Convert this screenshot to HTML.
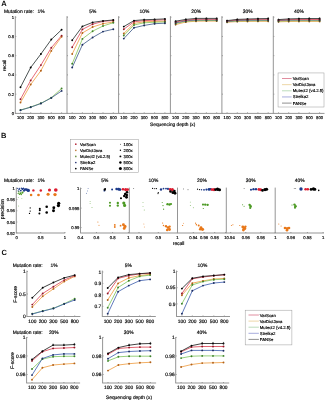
<!DOCTYPE html>
<html><head><meta charset="utf-8"><style>
html,body{margin:0;padding:0;background:#fff;}
svg{display:block;font-family:"Liberation Sans", sans-serif;text-rendering:geometricPrecision;will-change:transform;}
</style></head><body>
<svg width="326" height="400" viewBox="0 0 326 400">
<g>
<rect width="326" height="400" fill="#fff"/>
<text x="1.20" y="6.00" font-size="7.5" text-anchor="start" font-weight="bold" fill="#111" >A</text>
<line x1="15.30" y1="16.20" x2="15.30" y2="113.40" stroke="#959595" stroke-width="1.0"/>
<line x1="14.90" y1="113.40" x2="67.00" y2="113.40" stroke="#959595" stroke-width="1.0"/>
<line x1="20.50" y1="113.40" x2="20.50" y2="112.40" stroke="#959595" stroke-width="1.0"/>
<text x="20.50" y="119.20" font-size="4.2" text-anchor="middle" font-weight="normal" fill="#000" stroke="#000" stroke-width="0.16" >100</text>
<line x1="30.70" y1="113.40" x2="30.70" y2="112.40" stroke="#959595" stroke-width="1.0"/>
<text x="30.70" y="119.20" font-size="4.2" text-anchor="middle" font-weight="normal" fill="#000" stroke="#000" stroke-width="0.16" >200</text>
<line x1="40.90" y1="113.40" x2="40.90" y2="112.40" stroke="#959595" stroke-width="1.0"/>
<text x="40.90" y="119.20" font-size="4.2" text-anchor="middle" font-weight="normal" fill="#000" stroke="#000" stroke-width="0.16" >300</text>
<line x1="51.30" y1="113.40" x2="51.30" y2="112.40" stroke="#959595" stroke-width="1.0"/>
<text x="51.30" y="119.20" font-size="4.2" text-anchor="middle" font-weight="normal" fill="#000" stroke="#000" stroke-width="0.16" >500</text>
<line x1="61.60" y1="113.40" x2="61.60" y2="112.40" stroke="#959595" stroke-width="1.0"/>
<text x="61.60" y="119.20" font-size="4.2" text-anchor="middle" font-weight="normal" fill="#000" stroke="#000" stroke-width="0.16" >800</text>
<line x1="15.30" y1="113.40" x2="16.30" y2="113.40" stroke="#959595" stroke-width="1.0"/>
<line x1="15.30" y1="94.16" x2="16.30" y2="94.16" stroke="#959595" stroke-width="1.0"/>
<line x1="15.30" y1="74.92" x2="16.30" y2="74.92" stroke="#959595" stroke-width="1.0"/>
<line x1="15.30" y1="55.68" x2="16.30" y2="55.68" stroke="#959595" stroke-width="1.0"/>
<line x1="15.30" y1="36.44" x2="16.30" y2="36.44" stroke="#959595" stroke-width="1.0"/>
<line x1="15.30" y1="17.20" x2="16.30" y2="17.20" stroke="#959595" stroke-width="1.0"/>
<polyline points="20.50,102.50 30.70,84.50 40.90,70.70 51.30,50.90 61.60,36.70" fill="none" stroke="#f0a048" stroke-width="0.85"/>
<polyline points="20.50,110.00 30.70,107.00 40.90,103.30 51.30,97.70 61.60,88.50" fill="none" stroke="#8cc860" stroke-width="0.85"/>
<polyline points="20.50,110.20 30.70,107.20 40.90,103.50 51.30,97.90 61.60,90.90" fill="none" stroke="#44608c" stroke-width="0.85"/>
<polyline points="20.50,99.20 30.70,80.40 40.90,65.10 51.30,47.80 61.60,35.60" fill="none" stroke="#e25060" stroke-width="0.85"/>
<polyline points="20.50,87.20 30.70,67.50 40.90,54.00 51.30,39.50 61.60,29.70" fill="none" stroke="#2c3434" stroke-width="0.85"/>
<circle cx="20.50" cy="102.50" r="0.95" fill="#b06018"/>
<circle cx="30.70" cy="84.50" r="0.95" fill="#b06018"/>
<circle cx="40.90" cy="70.70" r="0.95" fill="#b06018"/>
<circle cx="51.30" cy="50.90" r="0.95" fill="#b06018"/>
<circle cx="61.60" cy="36.70" r="0.95" fill="#b06018"/>
<circle cx="20.50" cy="110.00" r="0.95" fill="#3c8028"/>
<circle cx="30.70" cy="107.00" r="0.95" fill="#3c8028"/>
<circle cx="40.90" cy="103.30" r="0.95" fill="#3c8028"/>
<circle cx="51.30" cy="97.70" r="0.95" fill="#3c8028"/>
<circle cx="61.60" cy="88.50" r="0.95" fill="#3c8028"/>
<circle cx="20.50" cy="110.20" r="0.95" fill="#1c2c60"/>
<circle cx="30.70" cy="107.20" r="0.95" fill="#1c2c60"/>
<circle cx="40.90" cy="103.50" r="0.95" fill="#1c2c60"/>
<circle cx="51.30" cy="97.90" r="0.95" fill="#1c2c60"/>
<circle cx="61.60" cy="90.90" r="0.95" fill="#1c2c60"/>
<circle cx="20.50" cy="99.20" r="0.95" fill="#901828"/>
<circle cx="30.70" cy="80.40" r="0.95" fill="#901828"/>
<circle cx="40.90" cy="65.10" r="0.95" fill="#901828"/>
<circle cx="51.30" cy="47.80" r="0.95" fill="#901828"/>
<circle cx="61.60" cy="35.60" r="0.95" fill="#901828"/>
<circle cx="20.50" cy="87.20" r="0.95" fill="#000"/>
<circle cx="30.70" cy="67.50" r="0.95" fill="#000"/>
<circle cx="40.90" cy="54.00" r="0.95" fill="#000"/>
<circle cx="51.30" cy="39.50" r="0.95" fill="#000"/>
<circle cx="61.60" cy="29.70" r="0.95" fill="#000"/>
<line x1="67.00" y1="16.20" x2="67.00" y2="113.40" stroke="#959595" stroke-width="1.0"/>
<line x1="66.60" y1="113.40" x2="118.60" y2="113.40" stroke="#959595" stroke-width="1.0"/>
<line x1="72.20" y1="113.40" x2="72.20" y2="112.40" stroke="#959595" stroke-width="1.0"/>
<text x="72.20" y="119.20" font-size="4.2" text-anchor="middle" font-weight="normal" fill="#000" stroke="#000" stroke-width="0.16" >100</text>
<line x1="82.40" y1="113.40" x2="82.40" y2="112.40" stroke="#959595" stroke-width="1.0"/>
<text x="82.40" y="119.20" font-size="4.2" text-anchor="middle" font-weight="normal" fill="#000" stroke="#000" stroke-width="0.16" >200</text>
<line x1="92.60" y1="113.40" x2="92.60" y2="112.40" stroke="#959595" stroke-width="1.0"/>
<text x="92.60" y="119.20" font-size="4.2" text-anchor="middle" font-weight="normal" fill="#000" stroke="#000" stroke-width="0.16" >300</text>
<line x1="103.00" y1="113.40" x2="103.00" y2="112.40" stroke="#959595" stroke-width="1.0"/>
<text x="103.00" y="119.20" font-size="4.2" text-anchor="middle" font-weight="normal" fill="#000" stroke="#000" stroke-width="0.16" >500</text>
<line x1="113.30" y1="113.40" x2="113.30" y2="112.40" stroke="#959595" stroke-width="1.0"/>
<text x="113.30" y="119.20" font-size="4.2" text-anchor="middle" font-weight="normal" fill="#000" stroke="#000" stroke-width="0.16" >800</text>
<line x1="67.00" y1="113.40" x2="68.00" y2="113.40" stroke="#959595" stroke-width="1.0"/>
<line x1="67.00" y1="94.16" x2="68.00" y2="94.16" stroke="#959595" stroke-width="1.0"/>
<line x1="67.00" y1="74.92" x2="68.00" y2="74.92" stroke="#959595" stroke-width="1.0"/>
<line x1="67.00" y1="55.68" x2="68.00" y2="55.68" stroke="#959595" stroke-width="1.0"/>
<line x1="67.00" y1="36.44" x2="68.00" y2="36.44" stroke="#959595" stroke-width="1.0"/>
<line x1="67.00" y1="17.20" x2="68.00" y2="17.20" stroke="#959595" stroke-width="1.0"/>
<text x="92.80" y="12.60" font-size="4.9" text-anchor="middle" font-weight="normal" fill="#000" stroke="#000" stroke-width="0.16" >5%</text>
<polyline points="72.20,54.00 82.40,33.00 92.60,27.00 103.00,23.70 113.30,22.00" fill="none" stroke="#f0a048" stroke-width="0.85"/>
<polyline points="72.20,63.80 82.40,38.90 92.60,31.20 103.00,26.00 113.30,22.70" fill="none" stroke="#8cc860" stroke-width="0.85"/>
<polyline points="72.20,67.50 82.40,44.80 92.60,37.50 103.00,31.60 113.30,29.20" fill="none" stroke="#44608c" stroke-width="0.85"/>
<polyline points="72.20,47.20 82.40,29.40 92.60,24.20 103.00,21.40 113.30,20.50" fill="none" stroke="#e25060" stroke-width="0.85"/>
<polyline points="72.20,40.20 82.40,26.40 92.60,22.40 103.00,20.90 113.30,20.00" fill="none" stroke="#2c3434" stroke-width="0.85"/>
<circle cx="72.20" cy="54.00" r="0.95" fill="#b06018"/>
<circle cx="82.40" cy="33.00" r="0.95" fill="#b06018"/>
<circle cx="92.60" cy="27.00" r="0.95" fill="#b06018"/>
<circle cx="103.00" cy="23.70" r="0.95" fill="#b06018"/>
<circle cx="113.30" cy="22.00" r="0.95" fill="#b06018"/>
<circle cx="72.20" cy="63.80" r="0.95" fill="#3c8028"/>
<circle cx="82.40" cy="38.90" r="0.95" fill="#3c8028"/>
<circle cx="92.60" cy="31.20" r="0.95" fill="#3c8028"/>
<circle cx="103.00" cy="26.00" r="0.95" fill="#3c8028"/>
<circle cx="113.30" cy="22.70" r="0.95" fill="#3c8028"/>
<circle cx="72.20" cy="67.50" r="0.95" fill="#1c2c60"/>
<circle cx="82.40" cy="44.80" r="0.95" fill="#1c2c60"/>
<circle cx="92.60" cy="37.50" r="0.95" fill="#1c2c60"/>
<circle cx="103.00" cy="31.60" r="0.95" fill="#1c2c60"/>
<circle cx="113.30" cy="29.20" r="0.95" fill="#1c2c60"/>
<circle cx="72.20" cy="47.20" r="0.95" fill="#901828"/>
<circle cx="82.40" cy="29.40" r="0.95" fill="#901828"/>
<circle cx="92.60" cy="24.20" r="0.95" fill="#901828"/>
<circle cx="103.00" cy="21.40" r="0.95" fill="#901828"/>
<circle cx="113.30" cy="20.50" r="0.95" fill="#901828"/>
<circle cx="72.20" cy="40.20" r="0.95" fill="#000"/>
<circle cx="82.40" cy="26.40" r="0.95" fill="#000"/>
<circle cx="92.60" cy="22.40" r="0.95" fill="#000"/>
<circle cx="103.00" cy="20.90" r="0.95" fill="#000"/>
<circle cx="113.30" cy="20.00" r="0.95" fill="#000"/>
<line x1="118.60" y1="16.20" x2="118.60" y2="113.40" stroke="#959595" stroke-width="1.0"/>
<line x1="118.20" y1="113.40" x2="170.40" y2="113.40" stroke="#959595" stroke-width="1.0"/>
<line x1="123.80" y1="113.40" x2="123.80" y2="112.40" stroke="#959595" stroke-width="1.0"/>
<text x="123.80" y="119.20" font-size="4.2" text-anchor="middle" font-weight="normal" fill="#000" stroke="#000" stroke-width="0.16" >100</text>
<line x1="134.00" y1="113.40" x2="134.00" y2="112.40" stroke="#959595" stroke-width="1.0"/>
<text x="134.00" y="119.20" font-size="4.2" text-anchor="middle" font-weight="normal" fill="#000" stroke="#000" stroke-width="0.16" >200</text>
<line x1="144.20" y1="113.40" x2="144.20" y2="112.40" stroke="#959595" stroke-width="1.0"/>
<text x="144.20" y="119.20" font-size="4.2" text-anchor="middle" font-weight="normal" fill="#000" stroke="#000" stroke-width="0.16" >300</text>
<line x1="154.60" y1="113.40" x2="154.60" y2="112.40" stroke="#959595" stroke-width="1.0"/>
<text x="154.60" y="119.20" font-size="4.2" text-anchor="middle" font-weight="normal" fill="#000" stroke="#000" stroke-width="0.16" >500</text>
<line x1="164.90" y1="113.40" x2="164.90" y2="112.40" stroke="#959595" stroke-width="1.0"/>
<text x="164.90" y="119.20" font-size="4.2" text-anchor="middle" font-weight="normal" fill="#000" stroke="#000" stroke-width="0.16" >800</text>
<line x1="118.60" y1="113.40" x2="119.60" y2="113.40" stroke="#959595" stroke-width="1.0"/>
<line x1="118.60" y1="94.16" x2="119.60" y2="94.16" stroke="#959595" stroke-width="1.0"/>
<line x1="118.60" y1="74.92" x2="119.60" y2="74.92" stroke="#959595" stroke-width="1.0"/>
<line x1="118.60" y1="55.68" x2="119.60" y2="55.68" stroke="#959595" stroke-width="1.0"/>
<line x1="118.60" y1="36.44" x2="119.60" y2="36.44" stroke="#959595" stroke-width="1.0"/>
<line x1="118.60" y1="17.20" x2="119.60" y2="17.20" stroke="#959595" stroke-width="1.0"/>
<text x="144.50" y="12.60" font-size="4.9" text-anchor="middle" font-weight="normal" fill="#000" stroke="#000" stroke-width="0.16" >10%</text>
<polyline points="123.80,33.50 134.00,23.40 144.20,21.80 154.60,21.40 164.90,21.20" fill="none" stroke="#f0a048" stroke-width="0.85"/>
<polyline points="123.80,35.50 134.00,25.00 144.20,22.80 154.60,22.20 164.90,21.90" fill="none" stroke="#8cc860" stroke-width="0.85"/>
<polyline points="123.80,38.60 134.00,27.80 144.20,25.40 154.60,23.70 164.90,23.20" fill="none" stroke="#44608c" stroke-width="0.85"/>
<polyline points="123.80,29.20 134.00,21.80 144.20,20.60 154.60,20.20 164.90,19.80" fill="none" stroke="#e25060" stroke-width="0.85"/>
<polyline points="123.80,26.60 134.00,20.60 144.20,19.70 154.60,19.40 164.90,18.90" fill="none" stroke="#2c3434" stroke-width="0.85"/>
<circle cx="123.80" cy="33.50" r="0.95" fill="#b06018"/>
<circle cx="134.00" cy="23.40" r="0.95" fill="#b06018"/>
<circle cx="144.20" cy="21.80" r="0.95" fill="#b06018"/>
<circle cx="154.60" cy="21.40" r="0.95" fill="#b06018"/>
<circle cx="164.90" cy="21.20" r="0.95" fill="#b06018"/>
<circle cx="123.80" cy="35.50" r="0.95" fill="#3c8028"/>
<circle cx="134.00" cy="25.00" r="0.95" fill="#3c8028"/>
<circle cx="144.20" cy="22.80" r="0.95" fill="#3c8028"/>
<circle cx="154.60" cy="22.20" r="0.95" fill="#3c8028"/>
<circle cx="164.90" cy="21.90" r="0.95" fill="#3c8028"/>
<circle cx="123.80" cy="38.60" r="0.95" fill="#1c2c60"/>
<circle cx="134.00" cy="27.80" r="0.95" fill="#1c2c60"/>
<circle cx="144.20" cy="25.40" r="0.95" fill="#1c2c60"/>
<circle cx="154.60" cy="23.70" r="0.95" fill="#1c2c60"/>
<circle cx="164.90" cy="23.20" r="0.95" fill="#1c2c60"/>
<circle cx="123.80" cy="29.20" r="0.95" fill="#901828"/>
<circle cx="134.00" cy="21.80" r="0.95" fill="#901828"/>
<circle cx="144.20" cy="20.60" r="0.95" fill="#901828"/>
<circle cx="154.60" cy="20.20" r="0.95" fill="#901828"/>
<circle cx="164.90" cy="19.80" r="0.95" fill="#901828"/>
<circle cx="123.80" cy="26.60" r="0.95" fill="#000"/>
<circle cx="134.00" cy="20.60" r="0.95" fill="#000"/>
<circle cx="144.20" cy="19.70" r="0.95" fill="#000"/>
<circle cx="154.60" cy="19.40" r="0.95" fill="#000"/>
<circle cx="164.90" cy="18.90" r="0.95" fill="#000"/>
<line x1="144.20" y1="18.80" x2="144.20" y2="26.30" stroke="#333" stroke-width="0.5"/>
<line x1="154.60" y1="18.50" x2="154.60" y2="24.60" stroke="#333" stroke-width="0.5"/>
<line x1="164.90" y1="18.00" x2="164.90" y2="24.10" stroke="#333" stroke-width="0.5"/>
<line x1="170.40" y1="16.20" x2="170.40" y2="113.40" stroke="#959595" stroke-width="1.0"/>
<line x1="170.00" y1="113.40" x2="221.90" y2="113.40" stroke="#959595" stroke-width="1.0"/>
<line x1="175.60" y1="113.40" x2="175.60" y2="112.40" stroke="#959595" stroke-width="1.0"/>
<text x="175.60" y="119.20" font-size="4.2" text-anchor="middle" font-weight="normal" fill="#000" stroke="#000" stroke-width="0.16" >100</text>
<line x1="185.80" y1="113.40" x2="185.80" y2="112.40" stroke="#959595" stroke-width="1.0"/>
<text x="185.80" y="119.20" font-size="4.2" text-anchor="middle" font-weight="normal" fill="#000" stroke="#000" stroke-width="0.16" >200</text>
<line x1="196.00" y1="113.40" x2="196.00" y2="112.40" stroke="#959595" stroke-width="1.0"/>
<text x="196.00" y="119.20" font-size="4.2" text-anchor="middle" font-weight="normal" fill="#000" stroke="#000" stroke-width="0.16" >300</text>
<line x1="206.40" y1="113.40" x2="206.40" y2="112.40" stroke="#959595" stroke-width="1.0"/>
<text x="206.40" y="119.20" font-size="4.2" text-anchor="middle" font-weight="normal" fill="#000" stroke="#000" stroke-width="0.16" >500</text>
<line x1="216.70" y1="113.40" x2="216.70" y2="112.40" stroke="#959595" stroke-width="1.0"/>
<text x="216.70" y="119.20" font-size="4.2" text-anchor="middle" font-weight="normal" fill="#000" stroke="#000" stroke-width="0.16" >800</text>
<line x1="170.40" y1="113.40" x2="171.40" y2="113.40" stroke="#959595" stroke-width="1.0"/>
<line x1="170.40" y1="94.16" x2="171.40" y2="94.16" stroke="#959595" stroke-width="1.0"/>
<line x1="170.40" y1="74.92" x2="171.40" y2="74.92" stroke="#959595" stroke-width="1.0"/>
<line x1="170.40" y1="55.68" x2="171.40" y2="55.68" stroke="#959595" stroke-width="1.0"/>
<line x1="170.40" y1="36.44" x2="171.40" y2="36.44" stroke="#959595" stroke-width="1.0"/>
<line x1="170.40" y1="17.20" x2="171.40" y2="17.20" stroke="#959595" stroke-width="1.0"/>
<text x="196.15" y="12.60" font-size="4.9" text-anchor="middle" font-weight="normal" fill="#000" stroke="#000" stroke-width="0.16" >20%</text>
<polyline points="175.60,24.60 185.80,22.00 196.00,21.20 206.40,21.10 216.70,21.10" fill="none" stroke="#f0a048" stroke-width="0.85"/>
<polyline points="175.60,23.60 185.80,21.40 196.00,20.60 206.40,20.50 216.70,20.50" fill="none" stroke="#8cc860" stroke-width="0.85"/>
<polyline points="175.60,22.80 185.80,20.80 196.00,20.00 206.40,19.90 216.70,19.90" fill="none" stroke="#44608c" stroke-width="0.85"/>
<polyline points="175.60,22.00 185.80,20.20 196.00,19.30 206.40,19.30 216.70,19.30" fill="none" stroke="#e25060" stroke-width="0.85"/>
<polyline points="175.60,21.20 185.80,19.40 196.00,18.40 206.40,18.40 216.70,18.40" fill="none" stroke="#2c3434" stroke-width="0.85"/>
<circle cx="175.60" cy="24.60" r="0.95" fill="#b06018"/>
<circle cx="185.80" cy="22.00" r="0.95" fill="#b06018"/>
<circle cx="196.00" cy="21.20" r="0.95" fill="#b06018"/>
<circle cx="206.40" cy="21.10" r="0.95" fill="#b06018"/>
<circle cx="216.70" cy="21.10" r="0.95" fill="#b06018"/>
<circle cx="175.60" cy="23.60" r="0.95" fill="#3c8028"/>
<circle cx="185.80" cy="21.40" r="0.95" fill="#3c8028"/>
<circle cx="196.00" cy="20.60" r="0.95" fill="#3c8028"/>
<circle cx="206.40" cy="20.50" r="0.95" fill="#3c8028"/>
<circle cx="216.70" cy="20.50" r="0.95" fill="#3c8028"/>
<circle cx="175.60" cy="22.80" r="0.95" fill="#1c2c60"/>
<circle cx="185.80" cy="20.80" r="0.95" fill="#1c2c60"/>
<circle cx="196.00" cy="20.00" r="0.95" fill="#1c2c60"/>
<circle cx="206.40" cy="19.90" r="0.95" fill="#1c2c60"/>
<circle cx="216.70" cy="19.90" r="0.95" fill="#1c2c60"/>
<circle cx="175.60" cy="22.00" r="0.95" fill="#901828"/>
<circle cx="185.80" cy="20.20" r="0.95" fill="#901828"/>
<circle cx="196.00" cy="19.30" r="0.95" fill="#901828"/>
<circle cx="206.40" cy="19.30" r="0.95" fill="#901828"/>
<circle cx="216.70" cy="19.30" r="0.95" fill="#901828"/>
<circle cx="175.60" cy="21.20" r="0.95" fill="#000"/>
<circle cx="185.80" cy="19.40" r="0.95" fill="#000"/>
<circle cx="196.00" cy="18.40" r="0.95" fill="#000"/>
<circle cx="206.40" cy="18.40" r="0.95" fill="#000"/>
<circle cx="216.70" cy="18.40" r="0.95" fill="#000"/>
<line x1="175.60" y1="20.30" x2="175.60" y2="25.50" stroke="#333" stroke-width="0.5"/>
<line x1="185.80" y1="18.50" x2="185.80" y2="22.90" stroke="#333" stroke-width="0.5"/>
<line x1="196.00" y1="17.50" x2="196.00" y2="22.10" stroke="#333" stroke-width="0.5"/>
<line x1="206.40" y1="17.50" x2="206.40" y2="22.00" stroke="#333" stroke-width="0.5"/>
<line x1="216.70" y1="17.50" x2="216.70" y2="22.00" stroke="#333" stroke-width="0.5"/>
<line x1="221.90" y1="16.20" x2="221.90" y2="113.40" stroke="#959595" stroke-width="1.0"/>
<line x1="221.50" y1="113.40" x2="273.30" y2="113.40" stroke="#959595" stroke-width="1.0"/>
<line x1="227.10" y1="113.40" x2="227.10" y2="112.40" stroke="#959595" stroke-width="1.0"/>
<text x="227.10" y="119.20" font-size="4.2" text-anchor="middle" font-weight="normal" fill="#000" stroke="#000" stroke-width="0.16" >100</text>
<line x1="237.30" y1="113.40" x2="237.30" y2="112.40" stroke="#959595" stroke-width="1.0"/>
<text x="237.30" y="119.20" font-size="4.2" text-anchor="middle" font-weight="normal" fill="#000" stroke="#000" stroke-width="0.16" >200</text>
<line x1="247.50" y1="113.40" x2="247.50" y2="112.40" stroke="#959595" stroke-width="1.0"/>
<text x="247.50" y="119.20" font-size="4.2" text-anchor="middle" font-weight="normal" fill="#000" stroke="#000" stroke-width="0.16" >300</text>
<line x1="257.90" y1="113.40" x2="257.90" y2="112.40" stroke="#959595" stroke-width="1.0"/>
<text x="257.90" y="119.20" font-size="4.2" text-anchor="middle" font-weight="normal" fill="#000" stroke="#000" stroke-width="0.16" >500</text>
<line x1="268.20" y1="113.40" x2="268.20" y2="112.40" stroke="#959595" stroke-width="1.0"/>
<text x="268.20" y="119.20" font-size="4.2" text-anchor="middle" font-weight="normal" fill="#000" stroke="#000" stroke-width="0.16" >800</text>
<line x1="221.90" y1="113.40" x2="222.90" y2="113.40" stroke="#959595" stroke-width="1.0"/>
<line x1="221.90" y1="94.16" x2="222.90" y2="94.16" stroke="#959595" stroke-width="1.0"/>
<line x1="221.90" y1="74.92" x2="222.90" y2="74.92" stroke="#959595" stroke-width="1.0"/>
<line x1="221.90" y1="55.68" x2="222.90" y2="55.68" stroke="#959595" stroke-width="1.0"/>
<line x1="221.90" y1="36.44" x2="222.90" y2="36.44" stroke="#959595" stroke-width="1.0"/>
<line x1="221.90" y1="17.20" x2="222.90" y2="17.20" stroke="#959595" stroke-width="1.0"/>
<text x="247.60" y="12.60" font-size="4.9" text-anchor="middle" font-weight="normal" fill="#000" stroke="#000" stroke-width="0.16" >30%</text>
<polyline points="227.10,22.20 237.30,21.60 247.50,21.40 257.90,21.30 268.20,21.30" fill="none" stroke="#f0a048" stroke-width="0.85"/>
<polyline points="227.10,21.80 237.30,21.00 247.50,20.80 257.90,20.70 268.20,20.60" fill="none" stroke="#8cc860" stroke-width="0.85"/>
<polyline points="227.10,21.40 237.30,20.50 247.50,20.20 257.90,20.10 268.20,20.00" fill="none" stroke="#44608c" stroke-width="0.85"/>
<polyline points="227.10,21.00 237.30,19.90 247.50,19.60 257.90,19.40 268.20,19.30" fill="none" stroke="#e25060" stroke-width="0.85"/>
<polyline points="227.10,20.60 237.30,19.40 247.50,19.00 257.90,18.70 268.20,18.50" fill="none" stroke="#2c3434" stroke-width="0.85"/>
<circle cx="227.10" cy="22.20" r="0.95" fill="#b06018"/>
<circle cx="237.30" cy="21.60" r="0.95" fill="#b06018"/>
<circle cx="247.50" cy="21.40" r="0.95" fill="#b06018"/>
<circle cx="257.90" cy="21.30" r="0.95" fill="#b06018"/>
<circle cx="268.20" cy="21.30" r="0.95" fill="#b06018"/>
<circle cx="227.10" cy="21.80" r="0.95" fill="#3c8028"/>
<circle cx="237.30" cy="21.00" r="0.95" fill="#3c8028"/>
<circle cx="247.50" cy="20.80" r="0.95" fill="#3c8028"/>
<circle cx="257.90" cy="20.70" r="0.95" fill="#3c8028"/>
<circle cx="268.20" cy="20.60" r="0.95" fill="#3c8028"/>
<circle cx="227.10" cy="21.40" r="0.95" fill="#1c2c60"/>
<circle cx="237.30" cy="20.50" r="0.95" fill="#1c2c60"/>
<circle cx="247.50" cy="20.20" r="0.95" fill="#1c2c60"/>
<circle cx="257.90" cy="20.10" r="0.95" fill="#1c2c60"/>
<circle cx="268.20" cy="20.00" r="0.95" fill="#1c2c60"/>
<circle cx="227.10" cy="21.00" r="0.95" fill="#901828"/>
<circle cx="237.30" cy="19.90" r="0.95" fill="#901828"/>
<circle cx="247.50" cy="19.60" r="0.95" fill="#901828"/>
<circle cx="257.90" cy="19.40" r="0.95" fill="#901828"/>
<circle cx="268.20" cy="19.30" r="0.95" fill="#901828"/>
<circle cx="227.10" cy="20.60" r="0.95" fill="#000"/>
<circle cx="237.30" cy="19.40" r="0.95" fill="#000"/>
<circle cx="247.50" cy="19.00" r="0.95" fill="#000"/>
<circle cx="257.90" cy="18.70" r="0.95" fill="#000"/>
<circle cx="268.20" cy="18.50" r="0.95" fill="#000"/>
<line x1="227.10" y1="19.70" x2="227.10" y2="23.10" stroke="#333" stroke-width="0.5"/>
<line x1="237.30" y1="18.50" x2="237.30" y2="22.50" stroke="#333" stroke-width="0.5"/>
<line x1="247.50" y1="18.10" x2="247.50" y2="22.30" stroke="#333" stroke-width="0.5"/>
<line x1="257.90" y1="17.80" x2="257.90" y2="22.20" stroke="#333" stroke-width="0.5"/>
<line x1="268.20" y1="17.60" x2="268.20" y2="22.20" stroke="#333" stroke-width="0.5"/>
<line x1="273.30" y1="16.20" x2="273.30" y2="113.40" stroke="#959595" stroke-width="1.0"/>
<line x1="272.90" y1="113.40" x2="324.50" y2="113.40" stroke="#959595" stroke-width="1.0"/>
<line x1="278.50" y1="113.40" x2="278.50" y2="112.40" stroke="#959595" stroke-width="1.0"/>
<text x="278.50" y="119.20" font-size="4.2" text-anchor="middle" font-weight="normal" fill="#000" stroke="#000" stroke-width="0.16" >100</text>
<line x1="288.70" y1="113.40" x2="288.70" y2="112.40" stroke="#959595" stroke-width="1.0"/>
<text x="288.70" y="119.20" font-size="4.2" text-anchor="middle" font-weight="normal" fill="#000" stroke="#000" stroke-width="0.16" >200</text>
<line x1="298.90" y1="113.40" x2="298.90" y2="112.40" stroke="#959595" stroke-width="1.0"/>
<text x="298.90" y="119.20" font-size="4.2" text-anchor="middle" font-weight="normal" fill="#000" stroke="#000" stroke-width="0.16" >300</text>
<line x1="309.30" y1="113.40" x2="309.30" y2="112.40" stroke="#959595" stroke-width="1.0"/>
<text x="309.30" y="119.20" font-size="4.2" text-anchor="middle" font-weight="normal" fill="#000" stroke="#000" stroke-width="0.16" >500</text>
<line x1="319.60" y1="113.40" x2="319.60" y2="112.40" stroke="#959595" stroke-width="1.0"/>
<text x="319.60" y="119.20" font-size="4.2" text-anchor="middle" font-weight="normal" fill="#000" stroke="#000" stroke-width="0.16" >800</text>
<line x1="273.30" y1="113.40" x2="274.30" y2="113.40" stroke="#959595" stroke-width="1.0"/>
<line x1="273.30" y1="94.16" x2="274.30" y2="94.16" stroke="#959595" stroke-width="1.0"/>
<line x1="273.30" y1="74.92" x2="274.30" y2="74.92" stroke="#959595" stroke-width="1.0"/>
<line x1="273.30" y1="55.68" x2="274.30" y2="55.68" stroke="#959595" stroke-width="1.0"/>
<line x1="273.30" y1="36.44" x2="274.30" y2="36.44" stroke="#959595" stroke-width="1.0"/>
<line x1="273.30" y1="17.20" x2="274.30" y2="17.20" stroke="#959595" stroke-width="1.0"/>
<text x="298.90" y="12.60" font-size="4.9" text-anchor="middle" font-weight="normal" fill="#000" stroke="#000" stroke-width="0.16" >40%</text>
<polyline points="278.50,21.80 288.70,21.50 298.90,21.40 309.30,21.40 319.60,21.40" fill="none" stroke="#f0a048" stroke-width="0.85"/>
<polyline points="278.50,21.20 288.70,20.80 298.90,20.70 309.30,20.70 319.60,20.70" fill="none" stroke="#8cc860" stroke-width="0.85"/>
<polyline points="278.50,20.60 288.70,20.10 298.90,20.00 309.30,20.00 319.60,20.00" fill="none" stroke="#44608c" stroke-width="0.85"/>
<polyline points="278.50,20.20 288.70,19.60 298.90,19.50 309.30,19.50 319.60,19.50" fill="none" stroke="#e25060" stroke-width="0.85"/>
<polyline points="278.50,19.60 288.70,18.90 298.90,18.60 309.30,18.50 319.60,18.50" fill="none" stroke="#2c3434" stroke-width="0.85"/>
<circle cx="278.50" cy="21.80" r="0.95" fill="#b06018"/>
<circle cx="288.70" cy="21.50" r="0.95" fill="#b06018"/>
<circle cx="298.90" cy="21.40" r="0.95" fill="#b06018"/>
<circle cx="309.30" cy="21.40" r="0.95" fill="#b06018"/>
<circle cx="319.60" cy="21.40" r="0.95" fill="#b06018"/>
<circle cx="278.50" cy="21.20" r="0.95" fill="#3c8028"/>
<circle cx="288.70" cy="20.80" r="0.95" fill="#3c8028"/>
<circle cx="298.90" cy="20.70" r="0.95" fill="#3c8028"/>
<circle cx="309.30" cy="20.70" r="0.95" fill="#3c8028"/>
<circle cx="319.60" cy="20.70" r="0.95" fill="#3c8028"/>
<circle cx="278.50" cy="20.60" r="0.95" fill="#1c2c60"/>
<circle cx="288.70" cy="20.10" r="0.95" fill="#1c2c60"/>
<circle cx="298.90" cy="20.00" r="0.95" fill="#1c2c60"/>
<circle cx="309.30" cy="20.00" r="0.95" fill="#1c2c60"/>
<circle cx="319.60" cy="20.00" r="0.95" fill="#1c2c60"/>
<circle cx="278.50" cy="20.20" r="0.95" fill="#901828"/>
<circle cx="288.70" cy="19.60" r="0.95" fill="#901828"/>
<circle cx="298.90" cy="19.50" r="0.95" fill="#901828"/>
<circle cx="309.30" cy="19.50" r="0.95" fill="#901828"/>
<circle cx="319.60" cy="19.50" r="0.95" fill="#901828"/>
<circle cx="278.50" cy="19.60" r="0.95" fill="#000"/>
<circle cx="288.70" cy="18.90" r="0.95" fill="#000"/>
<circle cx="298.90" cy="18.60" r="0.95" fill="#000"/>
<circle cx="309.30" cy="18.50" r="0.95" fill="#000"/>
<circle cx="319.60" cy="18.50" r="0.95" fill="#000"/>
<line x1="278.50" y1="18.70" x2="278.50" y2="22.70" stroke="#333" stroke-width="0.5"/>
<line x1="288.70" y1="18.00" x2="288.70" y2="22.40" stroke="#333" stroke-width="0.5"/>
<line x1="298.90" y1="17.70" x2="298.90" y2="22.30" stroke="#333" stroke-width="0.5"/>
<line x1="309.30" y1="17.60" x2="309.30" y2="22.30" stroke="#333" stroke-width="0.5"/>
<line x1="319.60" y1="17.60" x2="319.60" y2="22.30" stroke="#333" stroke-width="0.5"/>
<text x="14.00" y="114.90" font-size="4.2" text-anchor="end" font-weight="normal" fill="#000" stroke="#000" stroke-width="0.16" >0</text>
<text x="14.00" y="95.66" font-size="4.2" text-anchor="end" font-weight="normal" fill="#000" stroke="#000" stroke-width="0.16" >0.2</text>
<text x="14.00" y="76.42" font-size="4.2" text-anchor="end" font-weight="normal" fill="#000" stroke="#000" stroke-width="0.16" >0.4</text>
<text x="14.00" y="57.18" font-size="4.2" text-anchor="end" font-weight="normal" fill="#000" stroke="#000" stroke-width="0.16" >0.6</text>
<text x="14.00" y="37.94" font-size="4.2" text-anchor="end" font-weight="normal" fill="#000" stroke="#000" stroke-width="0.16" >0.8</text>
<text x="14.00" y="18.70" font-size="4.2" text-anchor="end" font-weight="normal" fill="#000" stroke="#000" stroke-width="0.16" >1</text>
<text x="4.00" y="12.60" font-size="4.9" text-anchor="start" font-weight="normal" fill="#000" stroke="#000" stroke-width="0.16" >Mutation rate:</text>
<text x="41.00" y="12.60" font-size="4.9" text-anchor="middle" font-weight="normal" fill="#000" stroke="#000" stroke-width="0.16" >1%</text>
<text x="6.00" y="65.30" font-size="4.8" text-anchor="middle" font-weight="normal" fill="#000" stroke="#000" stroke-width="0.16" transform="rotate(-90 6.0 65.3)">recall</text>
<text x="172.70" y="126.10" font-size="4.75" text-anchor="middle" font-weight="normal" fill="#000" stroke="#000" stroke-width="0.16" >Sequencing depth (x)</text>
<rect x="278.05" y="72.95" width="45.95" height="34.05" stroke="#999" fill="none" stroke-width="0.5"/>
<line x1="282.00" y1="78.50" x2="291.60" y2="78.50" stroke="#c83050" stroke-width="0.55"/>
<text x="292.80" y="80.00" font-size="4.25" text-anchor="start" font-weight="normal" fill="#000" stroke="#000" stroke-width="0.16" >VarScan</text>
<line x1="282.00" y1="84.65" x2="291.60" y2="84.65" stroke="#e0b860" stroke-width="0.55"/>
<text x="292.80" y="86.15" font-size="4.25" text-anchor="start" font-weight="normal" fill="#000" stroke="#000" stroke-width="0.16" >VarDictJava</text>
<line x1="282.00" y1="90.80" x2="291.60" y2="90.80" stroke="#84c084" stroke-width="0.55"/>
<text x="292.80" y="92.30" font-size="4.25" text-anchor="start" font-weight="normal" fill="#000" stroke="#000" stroke-width="0.16" >Mutect2 (v4.2.5)</text>
<line x1="282.00" y1="96.95" x2="291.60" y2="96.95" stroke="#6068c0" stroke-width="0.55"/>
<text x="292.80" y="98.45" font-size="4.25" text-anchor="start" font-weight="normal" fill="#000" stroke="#000" stroke-width="0.16" >Strelka2</text>
<line x1="282.00" y1="103.10" x2="291.60" y2="103.10" stroke="#333333" stroke-width="0.55"/>
<text x="292.80" y="104.60" font-size="4.25" text-anchor="start" font-weight="normal" fill="#000" stroke="#000" stroke-width="0.16" >FANSe</text>
<text x="1.00" y="137.80" font-size="7.5" text-anchor="start" font-weight="bold" fill="#111" >B</text>
<rect x="70.50" y="139.50" width="67.80" height="33.00" stroke="#999" fill="none" stroke-width="0.5"/>
<circle cx="75.80" cy="144.20" r="0.85" fill="#b83040"/>
<text x="80.00" y="145.70" font-size="4.2" text-anchor="start" font-weight="normal" fill="#000" stroke="#000" stroke-width="0.16" >VarScan</text>
<circle cx="75.80" cy="150.30" r="0.85" fill="#c08040"/>
<text x="80.00" y="151.80" font-size="4.2" text-anchor="start" font-weight="normal" fill="#000" stroke="#000" stroke-width="0.16" >VarDictJava</text>
<circle cx="75.80" cy="156.40" r="0.85" fill="#70984c"/>
<text x="80.00" y="157.90" font-size="4.2" text-anchor="start" font-weight="normal" fill="#000" stroke="#000" stroke-width="0.16" >Mutect2 (v4.2.5)</text>
<circle cx="75.80" cy="162.50" r="0.85" fill="#303c78"/>
<text x="80.00" y="164.00" font-size="4.2" text-anchor="start" font-weight="normal" fill="#000" stroke="#000" stroke-width="0.16" >Strelka2</text>
<circle cx="75.80" cy="168.60" r="0.85" fill="#000"/>
<text x="80.00" y="170.10" font-size="4.2" text-anchor="start" font-weight="normal" fill="#000" stroke="#000" stroke-width="0.16" >FANSe</text>
<circle cx="120.40" cy="144.20" r="0.45" fill="#000"/>
<text x="123.60" y="145.70" font-size="4.2" text-anchor="start" font-weight="normal" fill="#000" stroke="#000" stroke-width="0.16" >100x</text>
<circle cx="120.40" cy="150.30" r="0.70" fill="#000"/>
<text x="123.60" y="151.80" font-size="4.2" text-anchor="start" font-weight="normal" fill="#000" stroke="#000" stroke-width="0.16" >200x</text>
<circle cx="120.40" cy="156.40" r="0.95" fill="#000"/>
<text x="123.60" y="157.90" font-size="4.2" text-anchor="start" font-weight="normal" fill="#000" stroke="#000" stroke-width="0.16" >300x</text>
<circle cx="120.40" cy="162.50" r="1.20" fill="#000"/>
<text x="123.60" y="164.00" font-size="4.2" text-anchor="start" font-weight="normal" fill="#000" stroke="#000" stroke-width="0.16" >500x</text>
<circle cx="120.40" cy="168.60" r="1.50" fill="#000"/>
<text x="123.60" y="170.10" font-size="4.2" text-anchor="start" font-weight="normal" fill="#000" stroke="#000" stroke-width="0.16" >800x</text>
<line x1="16.30" y1="187.60" x2="16.30" y2="233.00" stroke="#959595" stroke-width="1.0"/>
<line x1="15.90" y1="233.00" x2="65.20" y2="233.00" stroke="#959595" stroke-width="1.0"/>
<line x1="80.50" y1="187.60" x2="80.50" y2="233.00" stroke="#959595" stroke-width="1.0"/>
<line x1="80.10" y1="233.00" x2="129.30" y2="233.00" stroke="#959595" stroke-width="1.0"/>
<line x1="129.30" y1="187.60" x2="129.30" y2="233.00" stroke="#959595" stroke-width="1.0"/>
<line x1="128.90" y1="233.00" x2="177.50" y2="233.00" stroke="#959595" stroke-width="1.0"/>
<line x1="177.50" y1="187.60" x2="177.50" y2="233.00" stroke="#959595" stroke-width="1.0"/>
<line x1="177.10" y1="233.00" x2="226.30" y2="233.00" stroke="#959595" stroke-width="1.0"/>
<line x1="226.30" y1="187.60" x2="226.30" y2="233.00" stroke="#959595" stroke-width="1.0"/>
<line x1="225.90" y1="233.00" x2="275.20" y2="233.00" stroke="#959595" stroke-width="1.0"/>
<line x1="275.20" y1="187.60" x2="275.20" y2="233.00" stroke="#959595" stroke-width="1.0"/>
<line x1="274.80" y1="233.00" x2="324.00" y2="233.00" stroke="#959595" stroke-width="1.0"/>
<text x="16.60" y="238.50" font-size="4.2" text-anchor="middle" font-weight="normal" fill="#000" stroke="#000" stroke-width="0.16" >0</text>
<line x1="16.60" y1="233.00" x2="16.60" y2="232.00" stroke="#959595" stroke-width="1.0"/>
<text x="40.70" y="238.50" font-size="4.2" text-anchor="middle" font-weight="normal" fill="#000" stroke="#000" stroke-width="0.16" >0.5</text>
<line x1="40.70" y1="233.00" x2="40.70" y2="232.00" stroke="#959595" stroke-width="1.0"/>
<text x="64.90" y="238.50" font-size="4.2" text-anchor="middle" font-weight="normal" fill="#000" stroke="#000" stroke-width="0.16" >1</text>
<line x1="64.90" y1="233.00" x2="64.90" y2="232.00" stroke="#959595" stroke-width="1.0"/>
<text x="80.50" y="238.50" font-size="4.2" text-anchor="middle" font-weight="normal" fill="#000" stroke="#000" stroke-width="0.16" >0.4</text>
<line x1="80.50" y1="233.00" x2="80.50" y2="232.00" stroke="#959595" stroke-width="1.0"/>
<text x="96.50" y="238.50" font-size="4.2" text-anchor="middle" font-weight="normal" fill="#000" stroke="#000" stroke-width="0.16" >0.6</text>
<line x1="96.50" y1="233.00" x2="96.50" y2="232.00" stroke="#959595" stroke-width="1.0"/>
<text x="112.60" y="238.50" font-size="4.2" text-anchor="middle" font-weight="normal" fill="#000" stroke="#000" stroke-width="0.16" >0.8</text>
<line x1="112.60" y1="233.00" x2="112.60" y2="232.00" stroke="#959595" stroke-width="1.0"/>
<text x="128.40" y="238.50" font-size="4.2" text-anchor="middle" font-weight="normal" fill="#000" stroke="#000" stroke-width="0.16" >1</text>
<line x1="128.40" y1="233.00" x2="128.40" y2="232.00" stroke="#959595" stroke-width="1.0"/>
<text x="139.00" y="238.50" font-size="4.2" text-anchor="middle" font-weight="normal" fill="#000" stroke="#000" stroke-width="0.16" >0.8</text>
<line x1="139.00" y1="233.00" x2="139.00" y2="232.00" stroke="#959595" stroke-width="1.0"/>
<text x="158.30" y="238.50" font-size="4.2" text-anchor="middle" font-weight="normal" fill="#000" stroke="#000" stroke-width="0.16" >0.9</text>
<line x1="158.30" y1="233.00" x2="158.30" y2="232.00" stroke="#959595" stroke-width="1.0"/>
<text x="177.40" y="238.50" font-size="4.2" text-anchor="middle" font-weight="normal" fill="#000" stroke="#000" stroke-width="0.16" >1</text>
<line x1="177.40" y1="233.00" x2="177.40" y2="232.00" stroke="#959595" stroke-width="1.0"/>
<text x="193.30" y="238.50" font-size="4.2" text-anchor="middle" font-weight="normal" fill="#000" stroke="#000" stroke-width="0.16" >0.94</text>
<line x1="193.30" y1="233.00" x2="193.30" y2="232.00" stroke="#959595" stroke-width="1.0"/>
<text x="204.00" y="238.50" font-size="4.2" text-anchor="middle" font-weight="normal" fill="#000" stroke="#000" stroke-width="0.16" >0.96</text>
<line x1="204.00" y1="233.00" x2="204.00" y2="232.00" stroke="#959595" stroke-width="1.0"/>
<text x="214.70" y="238.50" font-size="4.2" text-anchor="middle" font-weight="normal" fill="#000" stroke="#000" stroke-width="0.16" >0.98</text>
<line x1="214.70" y1="233.00" x2="214.70" y2="232.00" stroke="#959595" stroke-width="1.0"/>
<text x="225.50" y="238.50" font-size="4.2" text-anchor="middle" font-weight="normal" fill="#000" stroke="#000" stroke-width="0.16" >1</text>
<line x1="225.50" y1="233.00" x2="225.50" y2="232.00" stroke="#959595" stroke-width="1.0"/>
<text x="230.70" y="238.50" font-size="4.2" text-anchor="middle" font-weight="normal" fill="#000" stroke="#000" stroke-width="0.16" >0.94</text>
<line x1="230.70" y1="233.00" x2="230.70" y2="232.00" stroke="#959595" stroke-width="1.0"/>
<text x="245.80" y="238.50" font-size="4.2" text-anchor="middle" font-weight="normal" fill="#000" stroke="#000" stroke-width="0.16" >0.96</text>
<line x1="245.80" y1="233.00" x2="245.80" y2="232.00" stroke="#959595" stroke-width="1.0"/>
<text x="260.80" y="238.50" font-size="4.2" text-anchor="middle" font-weight="normal" fill="#000" stroke="#000" stroke-width="0.16" >0.98</text>
<line x1="260.80" y1="233.00" x2="260.80" y2="232.00" stroke="#959595" stroke-width="1.0"/>
<text x="275.30" y="238.50" font-size="4.2" text-anchor="middle" font-weight="normal" fill="#000" stroke="#000" stroke-width="0.16" >1</text>
<line x1="275.30" y1="233.00" x2="275.30" y2="232.00" stroke="#959595" stroke-width="1.0"/>
<text x="290.90" y="238.50" font-size="4.2" text-anchor="middle" font-weight="normal" fill="#000" stroke="#000" stroke-width="0.16" >0.96</text>
<line x1="290.90" y1="233.00" x2="290.90" y2="232.00" stroke="#959595" stroke-width="1.0"/>
<text x="307.40" y="238.50" font-size="4.2" text-anchor="middle" font-weight="normal" fill="#000" stroke="#000" stroke-width="0.16" >0.98</text>
<line x1="307.40" y1="233.00" x2="307.40" y2="232.00" stroke="#959595" stroke-width="1.0"/>
<text x="323.10" y="238.50" font-size="4.2" text-anchor="middle" font-weight="normal" fill="#000" stroke="#000" stroke-width="0.16" >1</text>
<line x1="323.10" y1="233.00" x2="323.10" y2="232.00" stroke="#959595" stroke-width="1.0"/>
<text x="14.80" y="189.80" font-size="4.2" text-anchor="end" font-weight="normal" fill="#000" stroke="#000" stroke-width="0.16" >1</text>
<line x1="16.30" y1="188.30" x2="17.30" y2="188.30" stroke="#959595" stroke-width="1.0"/>
<text x="14.80" y="201.00" font-size="4.2" text-anchor="end" font-weight="normal" fill="#000" stroke="#000" stroke-width="0.16" >0.98</text>
<line x1="16.30" y1="199.50" x2="17.30" y2="199.50" stroke="#959595" stroke-width="1.0"/>
<text x="14.80" y="212.30" font-size="4.2" text-anchor="end" font-weight="normal" fill="#000" stroke="#000" stroke-width="0.16" >0.96</text>
<line x1="16.30" y1="210.80" x2="17.30" y2="210.80" stroke="#959595" stroke-width="1.0"/>
<text x="14.80" y="223.50" font-size="4.2" text-anchor="end" font-weight="normal" fill="#000" stroke="#000" stroke-width="0.16" >0.94</text>
<line x1="16.30" y1="222.00" x2="17.30" y2="222.00" stroke="#959595" stroke-width="1.0"/>
<text x="14.80" y="234.50" font-size="4.2" text-anchor="end" font-weight="normal" fill="#000" stroke="#000" stroke-width="0.16" >0.92</text>
<line x1="16.30" y1="233.00" x2="17.30" y2="233.00" stroke="#959595" stroke-width="1.0"/>
<text x="79.30" y="190.00" font-size="4.2" text-anchor="end" font-weight="normal" fill="#000" stroke="#000" stroke-width="0.16" >1</text>
<line x1="80.50" y1="188.50" x2="81.50" y2="188.50" stroke="#959595" stroke-width="1.0"/>
<text x="79.30" y="209.60" font-size="4.2" text-anchor="end" font-weight="normal" fill="#000" stroke="#000" stroke-width="0.16" >0.995</text>
<line x1="80.50" y1="208.10" x2="81.50" y2="208.10" stroke="#959595" stroke-width="1.0"/>
<text x="79.30" y="229.10" font-size="4.2" text-anchor="end" font-weight="normal" fill="#000" stroke="#000" stroke-width="0.16" >0.99</text>
<line x1="80.50" y1="227.60" x2="81.50" y2="227.60" stroke="#959595" stroke-width="1.0"/>
<text x="4.00" y="182.00" font-size="4.9" text-anchor="start" font-weight="normal" fill="#000" stroke="#000" stroke-width="0.16" >Mutation rate:</text>
<text x="41.00" y="182.00" font-size="4.9" text-anchor="middle" font-weight="normal" fill="#000" stroke="#000" stroke-width="0.16" >1%</text>
<text x="104.90" y="182.00" font-size="4.9" text-anchor="middle" font-weight="normal" fill="#000" stroke="#000" stroke-width="0.16" >5%</text>
<text x="153.40" y="182.00" font-size="4.9" text-anchor="middle" font-weight="normal" fill="#000" stroke="#000" stroke-width="0.16" >10%</text>
<text x="201.90" y="182.00" font-size="4.9" text-anchor="middle" font-weight="normal" fill="#000" stroke="#000" stroke-width="0.16" >20%</text>
<text x="250.75" y="182.00" font-size="4.9" text-anchor="middle" font-weight="normal" fill="#000" stroke="#000" stroke-width="0.16" >30%</text>
<text x="299.60" y="182.00" font-size="4.9" text-anchor="middle" font-weight="normal" fill="#000" stroke="#000" stroke-width="0.16" >40%</text>
<text x="4.00" y="209.00" font-size="5.1" text-anchor="middle" font-weight="normal" fill="#000" stroke="#000" stroke-width="0.16" transform="rotate(-90 4.0 209.0)">precision</text>
<text x="178.60" y="245.20" font-size="4.9" text-anchor="middle" font-weight="normal" fill="#000" stroke="#000" stroke-width="0.16" >recall</text>
<circle cx="18.80" cy="191.80" r="0.78" fill="#4c9a24"/>
<circle cx="20.50" cy="193.20" r="0.91" fill="#4c9a24"/>
<circle cx="22.50" cy="192.60" r="1.04" fill="#4c9a24"/>
<circle cx="19.50" cy="194.20" r="0.78" fill="#4c9a24"/>
<circle cx="21.20" cy="194.40" r="0.78" fill="#4c9a24"/>
<circle cx="18.20" cy="193.40" r="0.65" fill="#4c9a24"/>
<circle cx="18.20" cy="197.30" r="0.39" fill="#4c9a24"/>
<circle cx="21.90" cy="198.30" r="0.39" fill="#4c9a24"/>
<circle cx="18.70" cy="206.00" r="0.39" fill="#4c9a24"/>
<circle cx="90.10" cy="201.60" r="0.45" fill="#4c9a24"/>
<circle cx="90.10" cy="203.60" r="0.45" fill="#4c9a24"/>
<circle cx="92.00" cy="207.50" r="0.45" fill="#4c9a24"/>
<circle cx="110.00" cy="202.80" r="1.04" fill="#4c9a24"/>
<circle cx="110.00" cy="205.80" r="1.04" fill="#4c9a24"/>
<circle cx="117.80" cy="203.00" r="1.17" fill="#4c9a24"/>
<circle cx="117.80" cy="205.60" r="1.17" fill="#4c9a24"/>
<circle cx="123.80" cy="203.00" r="1.56" fill="#4c9a24"/>
<circle cx="124.60" cy="205.40" r="1.56" fill="#4c9a24"/>
<circle cx="143.00" cy="202.40" r="0.45" fill="#4c9a24"/>
<circle cx="143.00" cy="206.60" r="0.45" fill="#4c9a24"/>
<circle cx="144.20" cy="210.00" r="0.45" fill="#4c9a24"/>
<circle cx="162.20" cy="202.40" r="0.52" fill="#4c9a24"/>
<circle cx="163.00" cy="205.60" r="0.65" fill="#4c9a24"/>
<circle cx="163.60" cy="209.20" r="0.59" fill="#4c9a24"/>
<circle cx="167.50" cy="204.20" r="1.17" fill="#4c9a24"/>
<circle cx="169.50" cy="204.60" r="1.23" fill="#4c9a24"/>
<circle cx="171.00" cy="204.00" r="1.10" fill="#4c9a24"/>
<circle cx="190.30" cy="202.10" r="0.45" fill="#4c9a24"/>
<circle cx="190.30" cy="205.50" r="0.45" fill="#4c9a24"/>
<circle cx="193.30" cy="207.80" r="0.45" fill="#4c9a24"/>
<circle cx="203.00" cy="204.60" r="1.04" fill="#4c9a24"/>
<circle cx="205.20" cy="204.60" r="1.17" fill="#4c9a24"/>
<circle cx="207.60" cy="204.80" r="1.17" fill="#4c9a24"/>
<circle cx="203.30" cy="208.50" r="0.59" fill="#4c9a24"/>
<circle cx="242.60" cy="204.70" r="0.52" fill="#4c9a24"/>
<circle cx="244.10" cy="206.20" r="0.52" fill="#4c9a24"/>
<circle cx="249.60" cy="204.80" r="1.17" fill="#4c9a24"/>
<circle cx="250.60" cy="206.40" r="1.30" fill="#4c9a24"/>
<circle cx="250.20" cy="208.00" r="1.04" fill="#4c9a24"/>
<circle cx="292.00" cy="205.00" r="0.59" fill="#4c9a24"/>
<circle cx="294.50" cy="204.60" r="1.17" fill="#4c9a24"/>
<circle cx="295.50" cy="206.20" r="1.30" fill="#4c9a24"/>
<circle cx="295.00" cy="207.80" r="1.04" fill="#4c9a24"/>
<circle cx="31.10" cy="195.00" r="1.30" fill="#e8781a"/>
<circle cx="38.50" cy="195.00" r="1.37" fill="#e8781a"/>
<circle cx="48.10" cy="194.30" r="1.56" fill="#e8781a"/>
<circle cx="55.00" cy="194.60" r="1.69" fill="#e8781a"/>
<circle cx="97.90" cy="221.90" r="0.52" fill="#e8781a"/>
<circle cx="99.00" cy="225.20" r="0.52" fill="#e8781a"/>
<circle cx="114.80" cy="224.90" r="0.91" fill="#e8781a"/>
<circle cx="114.80" cy="227.00" r="0.91" fill="#e8781a"/>
<circle cx="120.60" cy="225.70" r="0.91" fill="#e8781a"/>
<circle cx="123.40" cy="224.80" r="1.43" fill="#e8781a"/>
<circle cx="125.00" cy="226.40" r="1.56" fill="#e8781a"/>
<circle cx="124.20" cy="228.40" r="1.43" fill="#e8781a"/>
<circle cx="143.90" cy="224.00" r="0.45" fill="#e8781a"/>
<circle cx="144.30" cy="227.00" r="0.45" fill="#e8781a"/>
<circle cx="162.60" cy="223.00" r="0.59" fill="#e8781a"/>
<circle cx="163.50" cy="225.50" r="0.72" fill="#e8781a"/>
<circle cx="166.00" cy="226.20" r="1.17" fill="#e8781a"/>
<circle cx="168.00" cy="227.60" r="1.43" fill="#e8781a"/>
<circle cx="169.50" cy="229.50" r="1.43" fill="#e8781a"/>
<circle cx="167.20" cy="230.00" r="1.30" fill="#e8781a"/>
<circle cx="169.60" cy="226.60" r="1.17" fill="#e8781a"/>
<circle cx="183.40" cy="223.20" r="0.45" fill="#e8781a"/>
<circle cx="182.60" cy="225.50" r="0.59" fill="#e8781a"/>
<circle cx="195.60" cy="223.20" r="0.59" fill="#e8781a"/>
<circle cx="196.40" cy="224.70" r="0.72" fill="#e8781a"/>
<circle cx="198.70" cy="225.50" r="0.98" fill="#e8781a"/>
<circle cx="201.00" cy="227.80" r="1.43" fill="#e8781a"/>
<circle cx="202.50" cy="229.30" r="1.62" fill="#e8781a"/>
<circle cx="200.20" cy="229.30" r="1.30" fill="#e8781a"/>
<circle cx="231.40" cy="225.50" r="0.52" fill="#e8781a"/>
<circle cx="232.90" cy="224.70" r="0.52" fill="#e8781a"/>
<circle cx="239.80" cy="225.50" r="0.59" fill="#e8781a"/>
<circle cx="242.80" cy="227.00" r="1.43" fill="#e8781a"/>
<circle cx="244.60" cy="228.40" r="1.69" fill="#e8781a"/>
<circle cx="243.40" cy="230.00" r="1.43" fill="#e8781a"/>
<circle cx="245.40" cy="226.60" r="1.17" fill="#e8781a"/>
<circle cx="278.80" cy="224.00" r="0.52" fill="#e8781a"/>
<circle cx="281.10" cy="226.00" r="0.52" fill="#e8781a"/>
<circle cx="285.00" cy="228.00" r="1.30" fill="#e8781a"/>
<circle cx="287.20" cy="228.60" r="1.56" fill="#e8781a"/>
<circle cx="289.00" cy="228.00" r="1.30" fill="#e8781a"/>
<circle cx="287.00" cy="230.20" r="1.30" fill="#e8781a"/>
<circle cx="19.10" cy="189.50" r="0.78" fill="#1c3a8a"/>
<circle cx="22.40" cy="189.10" r="1.04" fill="#1c3a8a"/>
<circle cx="25.10" cy="189.50" r="1.30" fill="#1c3a8a"/>
<circle cx="28.30" cy="190.40" r="1.69" fill="#1c3a8a"/>
<circle cx="18.20" cy="190.80" r="0.65" fill="#1c3a8a"/>
<circle cx="17.80" cy="188.40" r="0.59" fill="#1c3a8a"/>
<circle cx="19.60" cy="188.30" r="0.65" fill="#1c3a8a"/>
<circle cx="21.40" cy="188.30" r="0.72" fill="#1c3a8a"/>
<circle cx="23.40" cy="188.40" r="0.78" fill="#1c3a8a"/>
<circle cx="26.60" cy="189.60" r="1.30" fill="#1c3a8a"/>
<circle cx="20.80" cy="190.60" r="0.91" fill="#1c3a8a"/>
<circle cx="24.00" cy="190.80" r="1.04" fill="#1c3a8a"/>
<circle cx="86.40" cy="193.20" r="0.45" fill="#1c3a8a"/>
<circle cx="87.40" cy="190.90" r="0.45" fill="#1c3a8a"/>
<circle cx="88.10" cy="188.40" r="0.45" fill="#1c3a8a"/>
<circle cx="104.40" cy="190.70" r="0.91" fill="#1c3a8a"/>
<circle cx="112.10" cy="189.40" r="0.98" fill="#1c3a8a"/>
<circle cx="116.60" cy="189.00" r="1.30" fill="#1c3a8a"/>
<circle cx="118.60" cy="189.30" r="1.43" fill="#1c3a8a"/>
<circle cx="120.00" cy="189.60" r="1.30" fill="#1c3a8a"/>
<circle cx="161.00" cy="189.50" r="1.17" fill="#1c3a8a"/>
<circle cx="163.50" cy="188.60" r="0.91" fill="#1c3a8a"/>
<circle cx="166.00" cy="188.60" r="0.91" fill="#1c3a8a"/>
<circle cx="168.00" cy="188.90" r="1.04" fill="#1c3a8a"/>
<circle cx="201.50" cy="189.80" r="0.72" fill="#1c3a8a"/>
<circle cx="204.00" cy="189.80" r="0.91" fill="#1c3a8a"/>
<circle cx="206.50" cy="189.60" r="1.10" fill="#1c3a8a"/>
<circle cx="209.00" cy="189.40" r="1.30" fill="#1c3a8a"/>
<circle cx="210.50" cy="189.20" r="1.30" fill="#1c3a8a"/>
<circle cx="251.00" cy="189.80" r="1.04" fill="#1c3a8a"/>
<circle cx="253.50" cy="189.20" r="1.17" fill="#1c3a8a"/>
<circle cx="256.00" cy="189.20" r="1.17" fill="#1c3a8a"/>
<circle cx="301.00" cy="189.00" r="1.69" fill="#1c3a8a"/>
<circle cx="33.40" cy="190.40" r="1.17" fill="#dc1c30"/>
<circle cx="40.80" cy="190.40" r="1.23" fill="#dc1c30"/>
<circle cx="49.50" cy="190.00" r="1.56" fill="#dc1c30"/>
<circle cx="55.80" cy="190.00" r="1.82" fill="#dc1c30"/>
<circle cx="123.00" cy="189.20" r="1.30" fill="#dc1c30"/>
<circle cx="125.60" cy="189.60" r="1.56" fill="#dc1c30"/>
<circle cx="127.60" cy="189.60" r="1.43" fill="#dc1c30"/>
<circle cx="170.20" cy="189.40" r="1.43" fill="#dc1c30"/>
<circle cx="172.40" cy="189.60" r="1.56" fill="#dc1c30"/>
<circle cx="212.00" cy="189.60" r="1.43" fill="#dc1c30"/>
<circle cx="214.00" cy="189.60" r="1.56" fill="#dc1c30"/>
<circle cx="258.80" cy="189.40" r="1.30" fill="#dc1c30"/>
<circle cx="260.60" cy="189.80" r="1.43" fill="#dc1c30"/>
<circle cx="305.60" cy="189.20" r="1.30" fill="#dc1c30"/>
<circle cx="307.80" cy="189.20" r="1.30" fill="#dc1c30"/>
<circle cx="30.20" cy="207.90" r="0.65" fill="#000"/>
<circle cx="30.20" cy="211.10" r="0.65" fill="#000"/>
<circle cx="29.50" cy="213.40" r="0.65" fill="#000"/>
<circle cx="39.80" cy="208.80" r="0.98" fill="#000"/>
<circle cx="39.80" cy="210.20" r="0.98" fill="#000"/>
<circle cx="39.40" cy="213.60" r="0.98" fill="#000"/>
<circle cx="46.70" cy="206.80" r="1.30" fill="#000"/>
<circle cx="46.70" cy="212.50" r="1.30" fill="#000"/>
<circle cx="53.80" cy="207.70" r="1.43" fill="#000"/>
<circle cx="53.50" cy="210.70" r="1.49" fill="#000"/>
<circle cx="58.70" cy="203.30" r="1.62" fill="#000"/>
<circle cx="58.40" cy="205.60" r="1.62" fill="#000"/>
<circle cx="104.80" cy="189.50" r="1.17" fill="#000"/>
<circle cx="105.40" cy="188.60" r="0.52" fill="#000"/>
<circle cx="121.00" cy="198.30" r="1.04" fill="#000"/>
<circle cx="125.20" cy="194.10" r="1.30" fill="#000"/>
<circle cx="126.50" cy="197.30" r="1.43" fill="#000"/>
<circle cx="127.00" cy="192.30" r="1.30" fill="#000"/>
<circle cx="124.20" cy="196.00" r="1.17" fill="#000"/>
<circle cx="126.80" cy="195.00" r="1.30" fill="#000"/>
<circle cx="133.70" cy="188.40" r="0.45" fill="#000"/>
<circle cx="152.60" cy="188.40" r="0.59" fill="#000"/>
<circle cx="154.80" cy="188.60" r="0.59" fill="#000"/>
<circle cx="156.50" cy="188.60" r="0.59" fill="#000"/>
<circle cx="158.30" cy="192.60" r="0.65" fill="#000"/>
<circle cx="158.00" cy="193.60" r="0.59" fill="#000"/>
<circle cx="170.50" cy="191.50" r="1.30" fill="#000"/>
<circle cx="173.00" cy="192.50" r="1.56" fill="#000"/>
<circle cx="175.00" cy="193.20" r="1.43" fill="#000"/>
<circle cx="174.40" cy="191.00" r="1.30" fill="#000"/>
<circle cx="183.40" cy="188.90" r="0.45" fill="#000"/>
<circle cx="188.00" cy="189.80" r="0.45" fill="#000"/>
<circle cx="197.50" cy="189.20" r="0.59" fill="#000"/>
<circle cx="199.50" cy="189.60" r="0.65" fill="#000"/>
<circle cx="215.50" cy="189.60" r="1.30" fill="#000"/>
<circle cx="217.50" cy="189.20" r="1.69" fill="#000"/>
<circle cx="219.50" cy="189.80" r="1.56" fill="#000"/>
<circle cx="244.10" cy="188.60" r="0.45" fill="#000"/>
<circle cx="262.50" cy="190.40" r="1.30" fill="#000"/>
<circle cx="265.00" cy="189.60" r="1.69" fill="#000"/>
<circle cx="266.60" cy="189.20" r="1.56" fill="#000"/>
<circle cx="294.20" cy="188.60" r="0.45" fill="#000"/>
<circle cx="295.70" cy="188.60" r="0.45" fill="#000"/>
<circle cx="311.00" cy="189.40" r="1.30" fill="#000"/>
<circle cx="313.50" cy="189.00" r="1.69" fill="#000"/>
<circle cx="315.00" cy="189.40" r="1.30" fill="#000"/>
<circle cx="318.70" cy="190.40" r="0.78" fill="#000"/>
<text x="1.40" y="255.30" font-size="7.5" text-anchor="start" font-weight="bold" fill="#111" >C</text>
<line x1="26.90" y1="270.60" x2="26.90" y2="316.50" stroke="#959595" stroke-width="1.0"/>
<line x1="26.50" y1="316.50" x2="80.40" y2="316.50" stroke="#959595" stroke-width="1.0"/>
<line x1="32.30" y1="316.50" x2="32.30" y2="315.50" stroke="#959595" stroke-width="1.0"/>
<text x="32.30" y="323.30" font-size="4.85" text-anchor="middle" font-weight="normal" fill="#000" stroke="#000" stroke-width="0.16" >100</text>
<line x1="42.70" y1="316.50" x2="42.70" y2="315.50" stroke="#959595" stroke-width="1.0"/>
<text x="42.70" y="323.30" font-size="4.85" text-anchor="middle" font-weight="normal" fill="#000" stroke="#000" stroke-width="0.16" >200</text>
<line x1="53.40" y1="316.50" x2="53.40" y2="315.50" stroke="#959595" stroke-width="1.0"/>
<text x="53.40" y="323.30" font-size="4.85" text-anchor="middle" font-weight="normal" fill="#000" stroke="#000" stroke-width="0.16" >300</text>
<line x1="64.20" y1="316.50" x2="64.20" y2="315.50" stroke="#959595" stroke-width="1.0"/>
<text x="64.20" y="323.30" font-size="4.85" text-anchor="middle" font-weight="normal" fill="#000" stroke="#000" stroke-width="0.16" >500</text>
<line x1="74.70" y1="316.50" x2="74.70" y2="315.50" stroke="#959595" stroke-width="1.0"/>
<text x="74.70" y="323.30" font-size="4.85" text-anchor="middle" font-weight="normal" fill="#000" stroke="#000" stroke-width="0.16" >800</text>
<line x1="26.90" y1="271.50" x2="27.90" y2="271.50" stroke="#959595" stroke-width="1.0"/>
<text x="25.80" y="273.20" font-size="4.85" text-anchor="end" font-weight="normal" fill="#000" stroke="#000" stroke-width="0.16" >1</text>
<line x1="26.90" y1="294.00" x2="27.90" y2="294.00" stroke="#959595" stroke-width="1.0"/>
<text x="25.80" y="295.70" font-size="4.85" text-anchor="end" font-weight="normal" fill="#000" stroke="#000" stroke-width="0.16" >0.5</text>
<line x1="26.90" y1="316.50" x2="27.90" y2="316.50" stroke="#959595" stroke-width="1.0"/>
<text x="25.80" y="318.20" font-size="4.85" text-anchor="end" font-weight="normal" fill="#000" stroke="#000" stroke-width="0.16" >0</text>
<text x="12.80" y="267.00" font-size="4.9" text-anchor="start" font-weight="normal" fill="#000" stroke="#000" stroke-width="0.16" >Mutation rate:</text>
<text x="54.00" y="267.00" font-size="4.9" text-anchor="middle" font-weight="normal" fill="#000" stroke="#000" stroke-width="0.16" >1%</text>
<polyline points="32.30,307.00 42.70,296.30 53.40,288.90 64.20,281.60 74.70,276.40" fill="none" stroke="#f0a048" stroke-width="0.85"/>
<polyline points="32.30,313.80 42.70,311.00 53.40,308.30 64.20,303.70 74.70,298.70" fill="none" stroke="#84c864" stroke-width="0.85"/>
<polyline points="32.30,314.00 42.70,311.20 53.40,308.50 64.20,304.00 74.70,300.00" fill="none" stroke="#4464b0" stroke-width="0.85"/>
<polyline points="32.30,304.60 42.70,293.50 53.40,286.70 64.20,280.10 74.70,275.70" fill="none" stroke="#dc4858" stroke-width="0.85"/>
<polyline points="32.30,297.80 42.70,287.70 53.40,282.50 64.20,277.90 74.70,275.10" fill="none" stroke="#222222" stroke-width="0.85"/>
<circle cx="32.30" cy="307.00" r="0.95" fill="#b06018"/>
<circle cx="42.70" cy="296.30" r="0.95" fill="#b06018"/>
<circle cx="53.40" cy="288.90" r="0.95" fill="#b06018"/>
<circle cx="64.20" cy="281.60" r="0.95" fill="#b06018"/>
<circle cx="74.70" cy="276.40" r="0.95" fill="#b06018"/>
<circle cx="32.30" cy="313.80" r="0.95" fill="#3c8028"/>
<circle cx="42.70" cy="311.00" r="0.95" fill="#3c8028"/>
<circle cx="53.40" cy="308.30" r="0.95" fill="#3c8028"/>
<circle cx="64.20" cy="303.70" r="0.95" fill="#3c8028"/>
<circle cx="74.70" cy="298.70" r="0.95" fill="#3c8028"/>
<circle cx="32.30" cy="314.00" r="0.95" fill="#1c2c60"/>
<circle cx="42.70" cy="311.20" r="0.95" fill="#1c2c60"/>
<circle cx="53.40" cy="308.50" r="0.95" fill="#1c2c60"/>
<circle cx="64.20" cy="304.00" r="0.95" fill="#1c2c60"/>
<circle cx="74.70" cy="300.00" r="0.95" fill="#1c2c60"/>
<circle cx="32.30" cy="304.60" r="0.95" fill="#901828"/>
<circle cx="42.70" cy="293.50" r="0.95" fill="#901828"/>
<circle cx="53.40" cy="286.70" r="0.95" fill="#901828"/>
<circle cx="64.20" cy="280.10" r="0.95" fill="#901828"/>
<circle cx="74.70" cy="275.70" r="0.95" fill="#901828"/>
<circle cx="32.30" cy="297.80" r="0.95" fill="#000"/>
<circle cx="42.70" cy="287.70" r="0.95" fill="#000"/>
<circle cx="53.40" cy="282.50" r="0.95" fill="#000"/>
<circle cx="64.20" cy="277.90" r="0.95" fill="#000"/>
<circle cx="74.70" cy="275.10" r="0.95" fill="#000"/>
<line x1="102.30" y1="270.60" x2="102.30" y2="316.50" stroke="#959595" stroke-width="1.0"/>
<line x1="101.90" y1="316.50" x2="155.80" y2="316.50" stroke="#959595" stroke-width="1.0"/>
<line x1="107.70" y1="316.50" x2="107.70" y2="315.50" stroke="#959595" stroke-width="1.0"/>
<text x="107.70" y="323.30" font-size="4.85" text-anchor="middle" font-weight="normal" fill="#000" stroke="#000" stroke-width="0.16" >100</text>
<line x1="118.10" y1="316.50" x2="118.10" y2="315.50" stroke="#959595" stroke-width="1.0"/>
<text x="118.10" y="323.30" font-size="4.85" text-anchor="middle" font-weight="normal" fill="#000" stroke="#000" stroke-width="0.16" >200</text>
<line x1="128.80" y1="316.50" x2="128.80" y2="315.50" stroke="#959595" stroke-width="1.0"/>
<text x="128.80" y="323.30" font-size="4.85" text-anchor="middle" font-weight="normal" fill="#000" stroke="#000" stroke-width="0.16" >300</text>
<line x1="139.60" y1="316.50" x2="139.60" y2="315.50" stroke="#959595" stroke-width="1.0"/>
<text x="139.60" y="323.30" font-size="4.85" text-anchor="middle" font-weight="normal" fill="#000" stroke="#000" stroke-width="0.16" >500</text>
<line x1="150.10" y1="316.50" x2="150.10" y2="315.50" stroke="#959595" stroke-width="1.0"/>
<text x="150.10" y="323.30" font-size="4.85" text-anchor="middle" font-weight="normal" fill="#000" stroke="#000" stroke-width="0.16" >800</text>
<line x1="102.30" y1="272.00" x2="103.30" y2="272.00" stroke="#959595" stroke-width="1.0"/>
<text x="101.20" y="273.70" font-size="4.85" text-anchor="end" font-weight="normal" fill="#000" stroke="#000" stroke-width="0.16" >1</text>
<line x1="102.30" y1="283.45" x2="103.30" y2="283.45" stroke="#959595" stroke-width="1.0"/>
<text x="101.20" y="285.15" font-size="4.85" text-anchor="end" font-weight="normal" fill="#000" stroke="#000" stroke-width="0.16" >0.9</text>
<line x1="102.30" y1="294.90" x2="103.30" y2="294.90" stroke="#959595" stroke-width="1.0"/>
<text x="101.20" y="296.60" font-size="4.85" text-anchor="end" font-weight="normal" fill="#000" stroke="#000" stroke-width="0.16" >0.8</text>
<line x1="102.30" y1="306.35" x2="103.30" y2="306.35" stroke="#959595" stroke-width="1.0"/>
<text x="101.20" y="308.05" font-size="4.85" text-anchor="end" font-weight="normal" fill="#000" stroke="#000" stroke-width="0.16" >0.7</text>
<text x="128.30" y="267.00" font-size="4.9" text-anchor="middle" font-weight="normal" fill="#000" stroke="#000" stroke-width="0.16" >5%</text>
<polyline points="107.70,300.00 118.10,283.40 128.80,277.90 139.60,275.70 150.10,274.20" fill="none" stroke="#f0a048" stroke-width="0.85"/>
<polyline points="107.70,307.70 118.10,287.50 128.80,280.70 139.60,276.40 150.10,275.10" fill="none" stroke="#84c864" stroke-width="0.85"/>
<polyline points="107.70,313.80 118.10,291.70 128.80,285.60 139.60,280.70 150.10,279.40" fill="none" stroke="#4464b0" stroke-width="0.85"/>
<polyline points="107.70,293.50 118.10,278.40 128.80,275.70 139.60,273.80 150.10,273.30" fill="none" stroke="#dc4858" stroke-width="0.85"/>
<polyline points="107.70,288.00 118.10,277.50 128.80,274.60 139.60,273.70 150.10,272.90" fill="none" stroke="#222222" stroke-width="0.85"/>
<circle cx="107.70" cy="300.00" r="0.95" fill="#b06018"/>
<circle cx="118.10" cy="283.40" r="0.95" fill="#b06018"/>
<circle cx="128.80" cy="277.90" r="0.95" fill="#b06018"/>
<circle cx="139.60" cy="275.70" r="0.95" fill="#b06018"/>
<circle cx="150.10" cy="274.20" r="0.95" fill="#b06018"/>
<circle cx="107.70" cy="307.70" r="0.95" fill="#3c8028"/>
<circle cx="118.10" cy="287.50" r="0.95" fill="#3c8028"/>
<circle cx="128.80" cy="280.70" r="0.95" fill="#3c8028"/>
<circle cx="139.60" cy="276.40" r="0.95" fill="#3c8028"/>
<circle cx="150.10" cy="275.10" r="0.95" fill="#3c8028"/>
<circle cx="107.70" cy="313.80" r="0.95" fill="#1c2c60"/>
<circle cx="118.10" cy="291.70" r="0.95" fill="#1c2c60"/>
<circle cx="128.80" cy="285.60" r="0.95" fill="#1c2c60"/>
<circle cx="139.60" cy="280.70" r="0.95" fill="#1c2c60"/>
<circle cx="150.10" cy="279.40" r="0.95" fill="#1c2c60"/>
<circle cx="107.70" cy="293.50" r="0.95" fill="#901828"/>
<circle cx="118.10" cy="278.40" r="0.95" fill="#901828"/>
<circle cx="128.80" cy="275.70" r="0.95" fill="#901828"/>
<circle cx="139.60" cy="273.80" r="0.95" fill="#901828"/>
<circle cx="150.10" cy="273.30" r="0.95" fill="#901828"/>
<circle cx="107.70" cy="288.00" r="0.95" fill="#000"/>
<circle cx="118.10" cy="277.50" r="0.95" fill="#000"/>
<circle cx="128.80" cy="274.60" r="0.95" fill="#000"/>
<circle cx="139.60" cy="273.70" r="0.95" fill="#000"/>
<circle cx="150.10" cy="272.90" r="0.95" fill="#000"/>
<line x1="176.50" y1="270.60" x2="176.50" y2="316.50" stroke="#959595" stroke-width="1.0"/>
<line x1="176.10" y1="316.50" x2="230.00" y2="316.50" stroke="#959595" stroke-width="1.0"/>
<line x1="181.90" y1="316.50" x2="181.90" y2="315.50" stroke="#959595" stroke-width="1.0"/>
<text x="181.90" y="323.30" font-size="4.85" text-anchor="middle" font-weight="normal" fill="#000" stroke="#000" stroke-width="0.16" >100</text>
<line x1="192.30" y1="316.50" x2="192.30" y2="315.50" stroke="#959595" stroke-width="1.0"/>
<text x="192.30" y="323.30" font-size="4.85" text-anchor="middle" font-weight="normal" fill="#000" stroke="#000" stroke-width="0.16" >200</text>
<line x1="203.00" y1="316.50" x2="203.00" y2="315.50" stroke="#959595" stroke-width="1.0"/>
<text x="203.00" y="323.30" font-size="4.85" text-anchor="middle" font-weight="normal" fill="#000" stroke="#000" stroke-width="0.16" >300</text>
<line x1="213.80" y1="316.50" x2="213.80" y2="315.50" stroke="#959595" stroke-width="1.0"/>
<text x="213.80" y="323.30" font-size="4.85" text-anchor="middle" font-weight="normal" fill="#000" stroke="#000" stroke-width="0.16" >500</text>
<line x1="224.30" y1="316.50" x2="224.30" y2="315.50" stroke="#959595" stroke-width="1.0"/>
<text x="224.30" y="323.30" font-size="4.85" text-anchor="middle" font-weight="normal" fill="#000" stroke="#000" stroke-width="0.16" >800</text>
<line x1="176.50" y1="271.50" x2="177.50" y2="271.50" stroke="#959595" stroke-width="1.0"/>
<text x="175.40" y="273.20" font-size="4.85" text-anchor="end" font-weight="normal" fill="#000" stroke="#000" stroke-width="0.16" >1</text>
<line x1="176.50" y1="287.70" x2="177.50" y2="287.70" stroke="#959595" stroke-width="1.0"/>
<text x="175.40" y="289.40" font-size="4.85" text-anchor="end" font-weight="normal" fill="#000" stroke="#000" stroke-width="0.16" >0.95</text>
<line x1="176.50" y1="303.90" x2="177.50" y2="303.90" stroke="#959595" stroke-width="1.0"/>
<text x="175.40" y="305.60" font-size="4.85" text-anchor="end" font-weight="normal" fill="#000" stroke="#000" stroke-width="0.16" >0.9</text>
<text x="202.50" y="267.00" font-size="4.9" text-anchor="middle" font-weight="normal" fill="#000" stroke="#000" stroke-width="0.16" >10%</text>
<polyline points="181.90,295.20 192.30,283.20 203.00,280.90 213.80,279.00 224.30,278.40" fill="none" stroke="#f0a048" stroke-width="0.85"/>
<polyline points="181.90,303.70 192.30,284.90 203.00,281.60 213.80,279.70 224.30,279.20" fill="none" stroke="#84c864" stroke-width="0.85"/>
<polyline points="181.90,313.80 192.30,290.80 203.00,285.60 213.80,283.00 224.30,282.10" fill="none" stroke="#4464b0" stroke-width="0.85"/>
<polyline points="181.90,293.50 192.30,278.80 203.00,277.00 213.80,275.70 224.30,274.80" fill="none" stroke="#dc4858" stroke-width="0.85"/>
<polyline points="181.90,288.60 192.30,278.30 203.00,276.40 213.80,275.50 224.30,274.60" fill="none" stroke="#222222" stroke-width="0.85"/>
<circle cx="181.90" cy="295.20" r="0.95" fill="#b06018"/>
<circle cx="192.30" cy="283.20" r="0.95" fill="#b06018"/>
<circle cx="203.00" cy="280.90" r="0.95" fill="#b06018"/>
<circle cx="213.80" cy="279.00" r="0.95" fill="#b06018"/>
<circle cx="224.30" cy="278.40" r="0.95" fill="#b06018"/>
<circle cx="181.90" cy="303.70" r="0.95" fill="#3c8028"/>
<circle cx="192.30" cy="284.90" r="0.95" fill="#3c8028"/>
<circle cx="203.00" cy="281.60" r="0.95" fill="#3c8028"/>
<circle cx="213.80" cy="279.70" r="0.95" fill="#3c8028"/>
<circle cx="224.30" cy="279.20" r="0.95" fill="#3c8028"/>
<circle cx="181.90" cy="313.80" r="0.95" fill="#1c2c60"/>
<circle cx="192.30" cy="290.80" r="0.95" fill="#1c2c60"/>
<circle cx="203.00" cy="285.60" r="0.95" fill="#1c2c60"/>
<circle cx="213.80" cy="283.00" r="0.95" fill="#1c2c60"/>
<circle cx="224.30" cy="282.10" r="0.95" fill="#1c2c60"/>
<circle cx="181.90" cy="293.50" r="0.95" fill="#901828"/>
<circle cx="192.30" cy="278.80" r="0.95" fill="#901828"/>
<circle cx="203.00" cy="277.00" r="0.95" fill="#901828"/>
<circle cx="213.80" cy="275.70" r="0.95" fill="#901828"/>
<circle cx="224.30" cy="274.80" r="0.95" fill="#901828"/>
<circle cx="181.90" cy="288.60" r="0.95" fill="#000"/>
<circle cx="192.30" cy="278.30" r="0.95" fill="#000"/>
<circle cx="203.00" cy="276.40" r="0.95" fill="#000"/>
<circle cx="213.80" cy="275.50" r="0.95" fill="#000"/>
<circle cx="224.30" cy="274.60" r="0.95" fill="#000"/>
<line x1="26.60" y1="337.00" x2="26.60" y2="383.00" stroke="#959595" stroke-width="1.0"/>
<line x1="26.20" y1="383.00" x2="80.10" y2="383.00" stroke="#959595" stroke-width="1.0"/>
<line x1="32.00" y1="383.00" x2="32.00" y2="382.00" stroke="#959595" stroke-width="1.0"/>
<text x="32.00" y="389.20" font-size="4.85" text-anchor="middle" font-weight="normal" fill="#000" stroke="#000" stroke-width="0.16" >100</text>
<line x1="42.40" y1="383.00" x2="42.40" y2="382.00" stroke="#959595" stroke-width="1.0"/>
<text x="42.40" y="389.20" font-size="4.85" text-anchor="middle" font-weight="normal" fill="#000" stroke="#000" stroke-width="0.16" >200</text>
<line x1="53.10" y1="383.00" x2="53.10" y2="382.00" stroke="#959595" stroke-width="1.0"/>
<text x="53.10" y="389.20" font-size="4.85" text-anchor="middle" font-weight="normal" fill="#000" stroke="#000" stroke-width="0.16" >300</text>
<line x1="63.90" y1="383.00" x2="63.90" y2="382.00" stroke="#959595" stroke-width="1.0"/>
<text x="63.90" y="389.20" font-size="4.85" text-anchor="middle" font-weight="normal" fill="#000" stroke="#000" stroke-width="0.16" >500</text>
<line x1="74.40" y1="383.00" x2="74.40" y2="382.00" stroke="#959595" stroke-width="1.0"/>
<text x="74.40" y="389.20" font-size="4.85" text-anchor="middle" font-weight="normal" fill="#000" stroke="#000" stroke-width="0.16" >800</text>
<line x1="26.60" y1="337.40" x2="27.60" y2="337.40" stroke="#959595" stroke-width="1.0"/>
<text x="25.50" y="339.10" font-size="4.85" text-anchor="end" font-weight="normal" fill="#000" stroke="#000" stroke-width="0.16" >1</text>
<line x1="26.60" y1="355.95" x2="27.60" y2="355.95" stroke="#959595" stroke-width="1.0"/>
<text x="25.50" y="357.65" font-size="4.85" text-anchor="end" font-weight="normal" fill="#000" stroke="#000" stroke-width="0.16" >0.98</text>
<line x1="26.60" y1="374.50" x2="27.60" y2="374.50" stroke="#959595" stroke-width="1.0"/>
<text x="25.50" y="376.20" font-size="4.85" text-anchor="end" font-weight="normal" fill="#000" stroke="#000" stroke-width="0.16" >0.96</text>
<text x="12.80" y="333.90" font-size="4.9" text-anchor="start" font-weight="normal" fill="#000" stroke="#000" stroke-width="0.16" >Mutation rate:</text>
<text x="53.80" y="333.90" font-size="4.9" text-anchor="middle" font-weight="normal" fill="#000" stroke="#000" stroke-width="0.16" >20%</text>
<polyline points="32.00,379.70 42.40,367.80 53.10,365.00 63.90,364.10 74.40,363.40" fill="none" stroke="#f0a048" stroke-width="0.85"/>
<polyline points="32.00,369.00 42.40,359.10 53.10,356.70 63.90,356.30 74.40,356.30" fill="none" stroke="#84c864" stroke-width="0.85"/>
<polyline points="32.00,375.10 42.40,358.50 53.10,354.90 63.90,353.90 74.40,353.90" fill="none" stroke="#4464b0" stroke-width="0.85"/>
<polyline points="32.00,360.90 42.40,351.70 53.10,348.40 63.90,348.00 74.40,347.50" fill="none" stroke="#dc4858" stroke-width="0.85"/>
<polyline points="32.00,359.50 42.40,351.20 53.10,345.10 63.90,345.10 74.40,344.50" fill="none" stroke="#222222" stroke-width="0.85"/>
<circle cx="32.00" cy="379.70" r="0.95" fill="#b06018"/>
<circle cx="42.40" cy="367.80" r="0.95" fill="#b06018"/>
<circle cx="53.10" cy="365.00" r="0.95" fill="#b06018"/>
<circle cx="63.90" cy="364.10" r="0.95" fill="#b06018"/>
<circle cx="74.40" cy="363.40" r="0.95" fill="#b06018"/>
<circle cx="32.00" cy="369.00" r="0.95" fill="#3c8028"/>
<circle cx="42.40" cy="359.10" r="0.95" fill="#3c8028"/>
<circle cx="53.10" cy="356.70" r="0.95" fill="#3c8028"/>
<circle cx="63.90" cy="356.30" r="0.95" fill="#3c8028"/>
<circle cx="74.40" cy="356.30" r="0.95" fill="#3c8028"/>
<circle cx="32.00" cy="375.10" r="0.95" fill="#1c2c60"/>
<circle cx="42.40" cy="358.50" r="0.95" fill="#1c2c60"/>
<circle cx="53.10" cy="354.90" r="0.95" fill="#1c2c60"/>
<circle cx="63.90" cy="353.90" r="0.95" fill="#1c2c60"/>
<circle cx="74.40" cy="353.90" r="0.95" fill="#1c2c60"/>
<circle cx="32.00" cy="360.90" r="0.95" fill="#901828"/>
<circle cx="42.40" cy="351.70" r="0.95" fill="#901828"/>
<circle cx="53.10" cy="348.40" r="0.95" fill="#901828"/>
<circle cx="63.90" cy="348.00" r="0.95" fill="#901828"/>
<circle cx="74.40" cy="347.50" r="0.95" fill="#901828"/>
<circle cx="32.00" cy="359.50" r="0.95" fill="#000"/>
<circle cx="42.40" cy="351.20" r="0.95" fill="#000"/>
<circle cx="53.10" cy="345.10" r="0.95" fill="#000"/>
<circle cx="63.90" cy="345.10" r="0.95" fill="#000"/>
<circle cx="74.40" cy="344.50" r="0.95" fill="#000"/>
<line x1="53.10" y1="343.50" x2="53.10" y2="346.10" stroke="#222" stroke-width="0.5"/>
<line x1="63.90" y1="343.50" x2="63.90" y2="346.10" stroke="#222" stroke-width="0.5"/>
<line x1="74.40" y1="342.90" x2="74.40" y2="345.50" stroke="#222" stroke-width="0.5"/>
<line x1="102.60" y1="337.00" x2="102.60" y2="383.00" stroke="#959595" stroke-width="1.0"/>
<line x1="102.20" y1="383.00" x2="156.10" y2="383.00" stroke="#959595" stroke-width="1.0"/>
<line x1="108.00" y1="383.00" x2="108.00" y2="382.00" stroke="#959595" stroke-width="1.0"/>
<text x="108.00" y="389.20" font-size="4.85" text-anchor="middle" font-weight="normal" fill="#000" stroke="#000" stroke-width="0.16" >100</text>
<line x1="118.40" y1="383.00" x2="118.40" y2="382.00" stroke="#959595" stroke-width="1.0"/>
<text x="118.40" y="389.20" font-size="4.85" text-anchor="middle" font-weight="normal" fill="#000" stroke="#000" stroke-width="0.16" >200</text>
<line x1="129.10" y1="383.00" x2="129.10" y2="382.00" stroke="#959595" stroke-width="1.0"/>
<text x="129.10" y="389.20" font-size="4.85" text-anchor="middle" font-weight="normal" fill="#000" stroke="#000" stroke-width="0.16" >300</text>
<line x1="139.90" y1="383.00" x2="139.90" y2="382.00" stroke="#959595" stroke-width="1.0"/>
<text x="139.90" y="389.20" font-size="4.85" text-anchor="middle" font-weight="normal" fill="#000" stroke="#000" stroke-width="0.16" >500</text>
<line x1="150.40" y1="383.00" x2="150.40" y2="382.00" stroke="#959595" stroke-width="1.0"/>
<text x="150.40" y="389.20" font-size="4.85" text-anchor="middle" font-weight="normal" fill="#000" stroke="#000" stroke-width="0.16" >800</text>
<line x1="102.60" y1="337.40" x2="103.60" y2="337.40" stroke="#959595" stroke-width="1.0"/>
<text x="101.50" y="339.10" font-size="4.85" text-anchor="end" font-weight="normal" fill="#000" stroke="#000" stroke-width="0.16" >1</text>
<line x1="102.60" y1="355.95" x2="103.60" y2="355.95" stroke="#959595" stroke-width="1.0"/>
<text x="101.50" y="357.65" font-size="4.85" text-anchor="end" font-weight="normal" fill="#000" stroke="#000" stroke-width="0.16" >0.98</text>
<line x1="102.60" y1="374.50" x2="103.60" y2="374.50" stroke="#959595" stroke-width="1.0"/>
<text x="101.50" y="376.20" font-size="4.85" text-anchor="end" font-weight="normal" fill="#000" stroke="#000" stroke-width="0.16" >0.96</text>
<text x="128.60" y="333.90" font-size="4.9" text-anchor="middle" font-weight="normal" fill="#000" stroke="#000" stroke-width="0.16" >30%</text>
<polyline points="108.00,370.60 118.40,365.00 129.10,363.70 139.90,362.80 150.40,362.30" fill="none" stroke="#f0a048" stroke-width="0.85"/>
<polyline points="108.00,360.90 118.40,356.80 129.10,356.20 139.90,356.20 150.40,356.20" fill="none" stroke="#84c864" stroke-width="0.85"/>
<polyline points="108.00,358.70 118.40,352.60 129.10,351.50 139.90,351.00 150.40,350.70" fill="none" stroke="#4464b0" stroke-width="0.85"/>
<polyline points="108.00,354.30 118.40,348.50 129.10,347.60 139.90,347.10 150.40,347.10" fill="none" stroke="#dc4858" stroke-width="0.85"/>
<polyline points="108.00,353.40 118.40,347.60 129.10,345.20 139.90,343.80 150.40,343.50" fill="none" stroke="#222222" stroke-width="0.85"/>
<circle cx="108.00" cy="370.60" r="0.95" fill="#b06018"/>
<circle cx="118.40" cy="365.00" r="0.95" fill="#b06018"/>
<circle cx="129.10" cy="363.70" r="0.95" fill="#b06018"/>
<circle cx="139.90" cy="362.80" r="0.95" fill="#b06018"/>
<circle cx="150.40" cy="362.30" r="0.95" fill="#b06018"/>
<circle cx="108.00" cy="360.90" r="0.95" fill="#3c8028"/>
<circle cx="118.40" cy="356.80" r="0.95" fill="#3c8028"/>
<circle cx="129.10" cy="356.20" r="0.95" fill="#3c8028"/>
<circle cx="139.90" cy="356.20" r="0.95" fill="#3c8028"/>
<circle cx="150.40" cy="356.20" r="0.95" fill="#3c8028"/>
<circle cx="108.00" cy="358.70" r="0.95" fill="#1c2c60"/>
<circle cx="118.40" cy="352.60" r="0.95" fill="#1c2c60"/>
<circle cx="129.10" cy="351.50" r="0.95" fill="#1c2c60"/>
<circle cx="139.90" cy="351.00" r="0.95" fill="#1c2c60"/>
<circle cx="150.40" cy="350.70" r="0.95" fill="#1c2c60"/>
<circle cx="108.00" cy="354.30" r="0.95" fill="#901828"/>
<circle cx="118.40" cy="348.50" r="0.95" fill="#901828"/>
<circle cx="129.10" cy="347.60" r="0.95" fill="#901828"/>
<circle cx="139.90" cy="347.10" r="0.95" fill="#901828"/>
<circle cx="150.40" cy="347.10" r="0.95" fill="#901828"/>
<circle cx="108.00" cy="353.40" r="0.95" fill="#000"/>
<circle cx="118.40" cy="347.60" r="0.95" fill="#000"/>
<circle cx="129.10" cy="345.20" r="0.95" fill="#000"/>
<circle cx="139.90" cy="343.80" r="0.95" fill="#000"/>
<circle cx="150.40" cy="343.50" r="0.95" fill="#000"/>
<line x1="129.10" y1="343.60" x2="129.10" y2="346.20" stroke="#222" stroke-width="0.5"/>
<line x1="139.90" y1="342.20" x2="139.90" y2="344.80" stroke="#222" stroke-width="0.5"/>
<line x1="150.40" y1="341.90" x2="150.40" y2="344.50" stroke="#222" stroke-width="0.5"/>
<line x1="175.70" y1="337.00" x2="175.70" y2="383.00" stroke="#959595" stroke-width="1.0"/>
<line x1="175.30" y1="383.00" x2="229.20" y2="383.00" stroke="#959595" stroke-width="1.0"/>
<line x1="181.10" y1="383.00" x2="181.10" y2="382.00" stroke="#959595" stroke-width="1.0"/>
<text x="181.10" y="389.20" font-size="4.85" text-anchor="middle" font-weight="normal" fill="#000" stroke="#000" stroke-width="0.16" >100</text>
<line x1="191.50" y1="383.00" x2="191.50" y2="382.00" stroke="#959595" stroke-width="1.0"/>
<text x="191.50" y="389.20" font-size="4.85" text-anchor="middle" font-weight="normal" fill="#000" stroke="#000" stroke-width="0.16" >200</text>
<line x1="202.20" y1="383.00" x2="202.20" y2="382.00" stroke="#959595" stroke-width="1.0"/>
<text x="202.20" y="389.20" font-size="4.85" text-anchor="middle" font-weight="normal" fill="#000" stroke="#000" stroke-width="0.16" >300</text>
<line x1="213.00" y1="383.00" x2="213.00" y2="382.00" stroke="#959595" stroke-width="1.0"/>
<text x="213.00" y="389.20" font-size="4.85" text-anchor="middle" font-weight="normal" fill="#000" stroke="#000" stroke-width="0.16" >500</text>
<line x1="223.50" y1="383.00" x2="223.50" y2="382.00" stroke="#959595" stroke-width="1.0"/>
<text x="223.50" y="389.20" font-size="4.85" text-anchor="middle" font-weight="normal" fill="#000" stroke="#000" stroke-width="0.16" >800</text>
<line x1="175.70" y1="337.40" x2="176.70" y2="337.40" stroke="#959595" stroke-width="1.0"/>
<text x="174.60" y="339.10" font-size="4.85" text-anchor="end" font-weight="normal" fill="#000" stroke="#000" stroke-width="0.16" >1</text>
<line x1="175.70" y1="355.95" x2="176.70" y2="355.95" stroke="#959595" stroke-width="1.0"/>
<text x="174.60" y="357.65" font-size="4.85" text-anchor="end" font-weight="normal" fill="#000" stroke="#000" stroke-width="0.16" >0.98</text>
<line x1="175.70" y1="374.50" x2="176.70" y2="374.50" stroke="#959595" stroke-width="1.0"/>
<text x="174.60" y="376.20" font-size="4.85" text-anchor="end" font-weight="normal" fill="#000" stroke="#000" stroke-width="0.16" >0.96</text>
<text x="201.70" y="333.90" font-size="4.9" text-anchor="middle" font-weight="normal" fill="#000" stroke="#000" stroke-width="0.16" >40%</text>
<polyline points="181.10,367.00 191.50,364.50 202.20,363.10 213.00,362.80 223.50,362.50" fill="none" stroke="#f0a048" stroke-width="0.85"/>
<polyline points="181.10,358.10 191.50,356.20 202.20,355.90 213.00,355.90 223.50,355.90" fill="none" stroke="#84c864" stroke-width="0.85"/>
<polyline points="181.10,354.00 191.50,350.40 202.20,350.40 213.00,350.40 223.50,350.70" fill="none" stroke="#4464b0" stroke-width="0.85"/>
<polyline points="181.10,351.80 191.50,347.10 202.20,346.50 213.00,346.50 223.50,346.50" fill="none" stroke="#dc4858" stroke-width="0.85"/>
<polyline points="181.10,351.20 191.50,345.70 202.20,343.50 213.00,343.50 223.50,343.50" fill="none" stroke="#222222" stroke-width="0.85"/>
<circle cx="181.10" cy="367.00" r="0.95" fill="#b06018"/>
<circle cx="191.50" cy="364.50" r="0.95" fill="#b06018"/>
<circle cx="202.20" cy="363.10" r="0.95" fill="#b06018"/>
<circle cx="213.00" cy="362.80" r="0.95" fill="#b06018"/>
<circle cx="223.50" cy="362.50" r="0.95" fill="#b06018"/>
<circle cx="181.10" cy="358.10" r="0.95" fill="#3c8028"/>
<circle cx="191.50" cy="356.20" r="0.95" fill="#3c8028"/>
<circle cx="202.20" cy="355.90" r="0.95" fill="#3c8028"/>
<circle cx="213.00" cy="355.90" r="0.95" fill="#3c8028"/>
<circle cx="223.50" cy="355.90" r="0.95" fill="#3c8028"/>
<circle cx="181.10" cy="354.00" r="0.95" fill="#1c2c60"/>
<circle cx="191.50" cy="350.40" r="0.95" fill="#1c2c60"/>
<circle cx="202.20" cy="350.40" r="0.95" fill="#1c2c60"/>
<circle cx="213.00" cy="350.40" r="0.95" fill="#1c2c60"/>
<circle cx="223.50" cy="350.70" r="0.95" fill="#1c2c60"/>
<circle cx="181.10" cy="351.80" r="0.95" fill="#901828"/>
<circle cx="191.50" cy="347.10" r="0.95" fill="#901828"/>
<circle cx="202.20" cy="346.50" r="0.95" fill="#901828"/>
<circle cx="213.00" cy="346.50" r="0.95" fill="#901828"/>
<circle cx="223.50" cy="346.50" r="0.95" fill="#901828"/>
<circle cx="181.10" cy="351.20" r="0.95" fill="#000"/>
<circle cx="191.50" cy="345.70" r="0.95" fill="#000"/>
<circle cx="202.20" cy="343.50" r="0.95" fill="#000"/>
<circle cx="213.00" cy="343.50" r="0.95" fill="#000"/>
<circle cx="223.50" cy="343.50" r="0.95" fill="#000"/>
<line x1="202.20" y1="341.90" x2="202.20" y2="344.50" stroke="#222" stroke-width="0.5"/>
<line x1="213.00" y1="341.90" x2="213.00" y2="344.50" stroke="#222" stroke-width="0.5"/>
<line x1="223.50" y1="341.90" x2="223.50" y2="344.50" stroke="#222" stroke-width="0.5"/>
<text x="17.10" y="294.30" font-size="5.0" text-anchor="middle" font-weight="normal" fill="#000" stroke="#000" stroke-width="0.16" transform="rotate(-90 17.1 294.3)">F-score</text>
<text x="14.30" y="360.60" font-size="5.0" text-anchor="middle" font-weight="normal" fill="#000" stroke="#000" stroke-width="0.16" transform="rotate(-90 14.3 360.6)">F-score</text>
<text x="129.00" y="398.90" font-size="4.85" text-anchor="middle" font-weight="normal" fill="#000" stroke="#000" stroke-width="0.16" >Sequencing depth (x)</text>
<rect x="245.20" y="310.20" width="46.70" height="34.70" stroke="#999" fill="none" stroke-width="0.5"/>
<line x1="248.50" y1="315.00" x2="258.90" y2="315.00" stroke="#c83050" stroke-width="0.55"/>
<text x="259.80" y="316.50" font-size="4.25" text-anchor="start" font-weight="normal" fill="#000" stroke="#000" stroke-width="0.16" >VarScan</text>
<line x1="248.50" y1="321.10" x2="258.90" y2="321.10" stroke="#e0b860" stroke-width="0.55"/>
<text x="259.80" y="322.60" font-size="4.25" text-anchor="start" font-weight="normal" fill="#000" stroke="#000" stroke-width="0.16" >VarDictJava</text>
<line x1="248.50" y1="327.20" x2="258.90" y2="327.20" stroke="#84c084" stroke-width="0.55"/>
<text x="259.80" y="328.70" font-size="4.25" text-anchor="start" font-weight="normal" fill="#000" stroke="#000" stroke-width="0.16" >Mutect2 (v4.2.5)</text>
<line x1="248.50" y1="333.30" x2="258.90" y2="333.30" stroke="#6068c0" stroke-width="0.55"/>
<text x="259.80" y="334.80" font-size="4.25" text-anchor="start" font-weight="normal" fill="#000" stroke="#000" stroke-width="0.16" >Strelka2</text>
<line x1="248.50" y1="339.40" x2="258.90" y2="339.40" stroke="#333333" stroke-width="0.55"/>
<text x="259.80" y="340.90" font-size="4.25" text-anchor="start" font-weight="normal" fill="#000" stroke="#000" stroke-width="0.16" >FANSe</text>
</g>
</svg></body></html>
